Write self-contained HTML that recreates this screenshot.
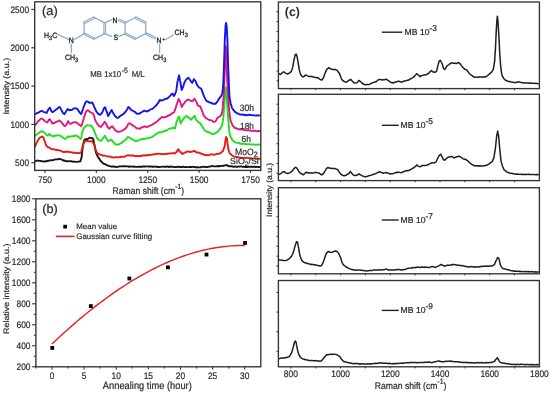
<!DOCTYPE html>
<html><head><meta charset="utf-8"><title>Figure</title>
<style>html,body{margin:0;padding:0;background:#fff;overflow:hidden;}svg{display:block;filter:blur(0.35px);}text{font-family:'Liberation Sans', Arial, Helvetica, sans-serif;text-rendering:geometricPrecision;}</style>
</head><body>
<svg width="550" height="393" viewBox="0 0 550 393">
<rect width="550" height="393" fill="#fff"/>
<clipPath id="cpa"><rect x="34.70" y="1.80" width="226.10" height="168.60"/></clipPath>
<g clip-path="url(#cpa)" fill="none" stroke-width="1.9" stroke-linejoin="round" stroke-linecap="round">
<polyline points="35.00,161.30 36.10,160.85 37.20,160.60 38.03,160.50 38.87,160.88 39.70,160.90 40.65,160.86 41.60,161.30 42.47,161.42 43.33,161.42 44.20,161.60 45.03,161.25 45.87,161.40 46.70,161.30 47.57,160.81 48.43,160.80 49.30,160.60 50.13,160.29 50.97,160.24 51.80,160.40 52.67,160.12 53.53,160.12 54.40,159.70 55.23,159.39 56.07,159.35 56.90,159.40 57.73,159.24 58.57,159.18 59.40,158.70 60.40,159.09 61.40,159.40 62.35,159.84 63.30,160.40 64.13,160.87 64.97,160.55 65.80,161.00 66.67,161.30 67.53,161.08 68.40,161.30 69.23,161.10 70.07,161.09 70.90,161.30 71.73,161.29 72.57,161.68 73.40,161.60 74.27,161.52 75.13,161.85 76.00,161.90 76.83,161.88 77.67,161.63 78.50,161.60 79.45,161.48 80.40,161.30 80.68,160.23 80.95,159.40 81.22,158.66 81.50,158.00 81.59,157.29 81.69,156.33 81.78,155.45 81.87,154.79 81.96,153.90 82.06,153.00 82.15,152.46 82.24,151.60 82.34,150.53 82.43,149.90 82.52,149.06 82.61,148.44 82.71,147.54 82.80,146.60 82.96,145.69 83.12,145.29 83.29,144.02 83.45,143.40 83.61,142.81 83.77,141.68 83.94,141.08 84.10,140.30 84.90,139.49 85.70,139.20 86.65,139.19 87.60,139.00 88.55,138.50 89.50,137.70 90.37,137.84 91.23,138.11 92.10,138.00 92.75,138.70 93.40,139.60 93.57,140.54 93.74,141.31 93.91,142.13 94.09,142.89 94.26,143.93 94.43,144.82 94.60,145.40 94.76,146.26 94.92,147.24 95.09,147.78 95.25,149.01 95.41,149.86 95.58,150.93 95.74,151.71 95.90,152.40 96.28,153.16 96.66,154.10 97.04,155.13 97.42,155.65 97.80,156.80 98.32,157.54 98.84,158.13 99.36,158.87 99.88,159.59 100.40,160.60 101.03,161.40 101.65,161.69 102.28,162.41 102.90,163.20 103.66,163.52 104.42,164.17 105.18,164.11 105.94,164.69 106.70,165.10 107.65,165.43 108.60,165.91 109.55,166.18 110.50,166.30 111.47,166.60 112.45,166.38 113.43,166.55 114.40,166.70 115.35,166.62 116.30,166.92 117.25,166.96 118.20,166.70 119.05,166.44 119.90,166.39 120.75,166.35 121.60,166.28 122.45,166.36 123.30,166.30 124.14,166.37 124.97,166.22 125.81,166.10 126.65,166.35 127.49,166.35 128.32,166.49 129.16,166.73 130.00,166.50 130.83,166.63 131.67,166.56 132.50,166.64 133.33,166.70 134.17,166.38 135.00,166.87 135.83,166.83 136.67,166.91 137.50,166.89 138.33,166.69 139.17,166.72 140.00,166.80 140.83,166.56 141.67,166.84 142.50,166.50 143.33,166.49 144.17,166.55 145.00,166.51 145.83,166.59 146.67,166.42 147.50,166.37 148.33,166.44 149.17,166.39 150.00,166.60 150.83,166.55 151.67,166.38 152.50,166.88 153.33,166.76 154.17,166.53 155.00,166.61 155.83,166.69 156.67,166.72 157.50,166.61 158.33,167.05 159.17,167.15 160.00,166.90 160.83,166.86 161.67,166.86 162.50,166.62 163.33,166.61 164.17,166.73 165.00,166.67 165.83,166.97 166.67,166.58 167.50,166.48 168.33,166.99 169.17,166.73 170.00,166.70 170.83,166.54 171.67,166.79 172.50,166.54 173.33,166.85 174.17,167.13 175.00,166.90 175.82,167.10 176.65,167.01 177.47,166.77 178.29,166.83 179.12,166.71 179.94,167.05 180.76,166.92 181.58,167.06 182.41,166.80 183.23,166.74 184.05,167.07 184.88,167.17 185.70,166.90 186.52,167.12 187.35,167.12 188.17,167.15 188.99,167.13 189.82,166.86 190.64,167.05 191.46,166.98 192.28,166.82 193.11,166.84 193.93,167.01 194.75,167.02 195.58,167.28 196.40,167.20 197.22,167.43 198.03,167.12 198.85,167.38 199.66,167.38 200.48,167.34 201.29,166.99 202.11,166.88 202.92,166.86 203.74,166.82 204.55,166.80 205.37,167.02 206.18,167.15 207.00,166.90 207.90,166.96 208.80,166.62 209.70,166.59 210.60,166.53 211.50,166.00 212.40,166.10 213.28,166.22 214.17,166.40 215.05,166.36 215.93,166.37 216.82,166.25 217.70,166.30 218.67,166.02 219.65,166.26 220.62,165.91 221.60,165.90 222.50,165.94 223.40,165.91 224.30,165.47 225.20,165.40 226.10,165.19 227.00,165.10 227.80,165.75 228.60,166.03 229.40,166.30 230.28,166.17 231.17,166.19 232.05,166.25 232.93,166.73 233.82,166.72 234.70,166.60 235.50,166.40 236.30,166.78 237.10,166.87 237.90,166.69 238.70,166.52 239.50,166.63 240.30,166.39 241.10,166.33 241.90,166.60 242.70,166.90 243.50,166.75 244.30,166.71 245.10,166.98 245.90,166.73 246.70,167.01 247.50,167.02 248.30,166.70 249.10,166.90 249.94,166.76 250.78,166.78 251.62,166.75 252.45,166.95 253.29,166.77 254.13,166.85 254.97,166.69 255.81,167.13 256.65,166.82 257.48,166.88 258.32,166.95 259.16,167.13 260.00,166.90" stroke="#151515"/>
<polyline points="35.00,146.60 35.30,145.80 35.60,145.31 35.90,144.32 36.20,143.58 36.50,142.80 37.00,142.01 37.50,140.93 38.00,140.37 38.50,139.60 39.13,138.59 39.77,137.66 40.40,137.10 41.35,136.97 42.30,136.50 42.90,136.92 43.50,137.70 43.76,138.45 44.02,139.35 44.28,140.01 44.54,140.64 44.80,141.50 45.06,142.29 45.32,143.09 45.58,144.00 45.84,144.40 46.10,145.40 46.73,146.07 47.37,146.53 48.00,147.30 48.95,147.48 49.90,147.90 50.85,148.70 51.80,149.20 52.75,149.20 53.70,149.20 54.65,149.53 55.60,149.80 56.55,149.95 57.50,149.80 58.45,150.33 59.40,150.40 60.40,150.72 61.40,151.10 62.35,151.61 63.30,152.00 64.25,152.00 65.20,152.00 66.15,151.76 67.10,151.50 67.93,151.77 68.77,151.81 69.60,152.00 70.47,152.15 71.33,152.25 72.20,152.40 73.03,152.75 73.87,152.71 74.70,152.70 75.57,153.01 76.43,153.15 77.30,153.00 78.13,152.93 78.97,153.17 79.80,153.20 81.00,152.40 81.22,151.85 81.45,150.99 81.68,149.80 81.90,149.20 82.12,148.14 82.33,147.47 82.55,146.41 82.77,145.65 82.98,144.71 83.20,144.10 83.63,143.26 84.07,142.39 84.50,141.30 85.45,141.32 86.40,140.90 87.23,140.84 88.07,141.29 88.90,141.30 89.97,141.39 91.03,141.10 92.10,141.30 92.57,142.21 93.05,142.96 93.53,143.24 94.00,144.10 94.22,145.20 94.43,145.74 94.65,146.64 94.87,147.77 95.08,148.54 95.30,149.20 95.68,149.81 96.06,150.76 96.44,151.61 96.82,152.31 97.20,153.20 98.03,153.46 98.87,153.97 99.70,154.50 100.50,154.87 101.30,154.73 102.10,155.28 102.90,155.50 103.85,155.64 104.80,155.58 105.75,155.93 106.70,156.20 107.65,156.42 108.60,156.51 109.55,156.41 110.50,156.80 111.47,157.22 112.45,157.26 113.43,157.51 114.40,157.40 115.35,157.18 116.30,157.27 117.25,157.14 118.20,157.40 119.15,157.41 120.10,156.97 121.05,156.74 122.00,156.80 122.95,156.61 123.90,156.73 124.85,156.53 125.80,156.20 126.53,155.73 127.27,155.34 128.00,155.20 128.95,155.51 129.90,155.39 130.85,155.54 131.80,155.50 132.75,155.42 133.70,155.55 134.65,156.06 135.60,156.10 136.57,156.06 137.55,155.86 138.53,156.35 139.50,156.10 140.45,156.03 141.40,155.97 142.35,155.42 143.30,155.50 144.25,155.62 145.20,155.11 146.15,155.48 147.10,155.20 148.05,155.07 149.00,154.91 149.95,154.93 150.90,154.80 151.85,154.91 152.80,154.42 153.75,154.22 154.70,154.30 155.65,154.22 156.60,153.95 157.55,153.78 158.50,153.90 159.47,153.81 160.45,153.85 161.43,154.03 162.40,154.30 163.35,154.09 164.30,153.99 165.25,154.15 166.20,153.90 167.15,153.68 168.10,153.70 169.05,153.42 170.00,153.50 170.95,153.36 171.90,153.13 172.85,153.21 173.80,153.30 175.00,153.50 175.80,152.43 176.60,151.90 177.13,151.13 177.67,150.13 178.20,149.20 178.73,149.76 179.27,150.65 179.80,151.40 180.48,152.29 181.15,152.48 181.82,153.53 182.50,154.00 183.37,153.43 184.23,152.93 185.10,152.40 186.00,152.25 186.90,151.67 187.80,151.40 188.60,151.53 189.40,151.76 190.20,152.05 191.00,151.90 191.80,151.54 192.60,151.54 193.40,151.19 194.20,150.80 194.93,151.41 195.67,151.81 196.40,152.40 197.20,152.46 198.00,152.45 198.80,152.64 199.60,153.00 200.40,153.11 201.20,153.83 202.00,153.91 202.80,154.40 203.85,154.56 204.90,155.10 205.97,154.87 207.03,155.29 208.10,155.10 208.90,155.13 209.70,154.85 210.50,154.45 211.30,154.40 212.10,154.36 212.90,154.48 213.70,154.68 214.50,154.80 215.30,154.33 216.10,154.22 216.90,153.84 217.70,153.70 218.60,153.76 219.50,153.56 220.40,153.10 221.20,152.53 222.00,151.76 222.80,151.30 223.10,150.76 223.40,149.59 223.70,148.82 224.00,147.82 224.30,147.23 224.60,146.50 224.71,145.64 224.83,144.82 224.94,143.80 225.06,143.13 225.17,142.01 225.29,141.31 225.40,140.60 225.57,139.47 225.75,138.74 225.93,137.64 226.10,137.00 227.00,138.20 227.09,138.78 227.17,139.78 227.26,140.58 227.34,141.62 227.43,142.43 227.51,143.40 227.60,144.10 227.73,145.05 227.86,145.94 227.99,146.88 228.11,147.47 228.24,148.29 228.37,149.51 228.50,150.10 228.88,150.80 229.25,152.03 229.62,152.88 230.00,153.70 230.72,153.96 231.44,154.93 232.16,155.48 232.88,155.85 233.60,156.30 234.38,156.60 235.17,156.81 235.95,156.60 236.73,156.98 237.52,157.14 238.30,157.30 239.16,157.57 240.01,157.64 240.87,157.74 241.73,157.69 242.59,157.95 243.44,157.92 244.30,157.90 245.10,158.06 245.90,157.86 246.70,157.80 247.50,157.92 248.30,158.10 249.10,158.01 249.90,158.48 250.70,158.38 251.50,158.40 252.35,158.51 253.20,158.55 254.05,158.62 254.90,158.55 255.75,158.32 256.60,158.81 257.45,158.82 258.30,158.72 259.15,158.78 260.00,158.80" stroke="#e51c1c"/>
<polyline points="35.30,135.70 36.13,135.16 36.97,134.19 37.80,133.80 38.45,133.46 39.10,132.71 39.75,132.14 40.40,131.90 41.35,131.47 42.30,131.30 43.25,132.03 44.20,132.50 44.83,132.97 45.47,133.90 46.10,134.40 47.05,135.32 48.00,135.70 48.65,134.75 49.30,133.80 49.90,134.38 50.50,135.10 51.45,135.69 52.40,136.30 53.40,136.10 54.40,135.70 55.35,135.75 56.30,135.50 57.25,135.37 58.20,135.10 59.15,135.48 60.10,135.70 61.05,136.11 62.00,137.00 62.83,137.44 63.67,138.13 64.50,138.90 65.45,138.74 66.40,138.30 66.97,137.52 67.53,137.00 68.10,136.30 68.85,136.38 69.60,137.00 70.47,136.52 71.33,136.40 72.20,136.30 73.03,136.20 73.87,136.01 74.70,135.70 75.65,135.70 76.60,135.50 77.23,135.88 77.87,136.51 78.50,137.00 79.13,137.61 79.77,138.25 80.40,138.90 81.30,138.30 81.40,137.25 81.50,136.85 81.60,135.63 81.70,135.23 81.80,134.38 81.90,133.30 82.22,132.18 82.53,131.58 82.85,130.93 83.17,130.16 83.48,129.02 83.80,128.20 84.45,127.37 85.10,126.64 85.75,126.35 86.40,125.40 87.23,125.24 88.07,125.45 88.90,125.40 89.77,125.33 90.63,125.68 91.50,125.80 91.97,126.80 92.45,127.09 92.93,128.23 93.40,128.80 93.72,129.65 94.03,130.72 94.35,131.46 94.67,132.05 94.98,133.27 95.30,133.90 95.62,134.64 95.93,135.13 96.25,135.87 96.57,136.90 96.88,137.62 97.20,138.40 97.83,138.92 98.47,139.47 99.10,140.30 100.05,140.51 101.00,140.90 101.63,139.96 102.27,139.42 102.90,138.40 103.38,137.47 103.85,137.24 104.33,136.64 104.80,135.80 105.28,136.39 105.75,137.64 106.22,138.32 106.70,139.00 107.20,139.99 107.70,140.42 108.20,141.30 109.05,140.73 109.90,140.30 110.75,139.89 111.60,139.60 112.17,140.75 112.73,141.38 113.30,142.20 113.88,142.75 114.45,143.41 115.02,143.95 115.60,144.70 116.47,144.45 117.33,144.48 118.20,144.70 119.03,144.45 119.87,143.71 120.70,143.40 121.35,143.17 122.00,142.31 122.65,141.84 123.30,141.50 124.13,140.87 124.97,140.06 125.80,139.60 126.35,138.80 126.90,138.41 127.45,137.64 128.00,136.70 128.83,137.31 129.67,137.64 130.50,138.00 131.15,138.71 131.80,139.20 132.45,139.45 133.10,139.90 133.93,140.46 134.77,140.51 135.60,141.20 136.47,141.10 137.33,140.71 138.20,140.50 139.03,140.31 139.87,139.91 140.70,139.50 141.57,139.21 142.43,138.91 143.30,139.00 144.13,139.11 144.97,138.52 145.80,138.60 146.67,138.38 147.53,138.11 148.40,138.00 149.23,137.69 150.07,137.73 150.90,137.40 151.73,137.23 152.57,136.40 153.40,136.10 154.05,135.71 154.70,135.04 155.35,134.71 156.00,134.20 156.83,133.61 157.67,132.95 158.50,132.60 159.37,132.31 160.23,132.24 161.10,132.30 161.93,132.23 162.77,131.70 163.60,131.40 164.47,130.91 165.33,130.96 166.20,130.40 167.03,130.24 167.87,129.51 168.70,129.10 169.57,128.66 170.43,128.46 171.30,128.40 172.13,127.97 172.97,127.91 173.80,127.80 175.00,128.60 175.19,127.56 175.37,126.83 175.56,126.02 175.74,125.38 175.93,124.75 176.11,123.85 176.30,122.90 176.60,121.90 176.90,120.95 177.20,120.06 177.50,119.10 178.03,118.16 178.57,117.28 179.10,116.50 179.30,117.13 179.50,118.13 179.70,119.39 179.90,119.79 180.10,120.88 180.30,121.82 180.50,122.83 180.70,123.50 181.17,122.57 181.65,121.82 182.12,121.03 182.60,120.40 183.07,119.54 183.55,118.77 184.03,118.25 184.50,117.20 185.50,116.75 186.50,115.90 187.33,116.74 188.17,116.90 189.00,117.80 189.63,118.17 190.27,119.18 190.90,119.70 191.53,119.29 192.17,118.42 192.80,117.80 193.43,117.22 194.07,116.25 194.70,115.90 195.02,116.59 195.33,117.64 195.65,118.33 195.97,119.10 196.28,119.91 196.60,120.40 197.23,120.89 197.87,121.45 198.50,122.30 199.45,122.71 200.40,123.50 200.90,124.31 201.40,125.20 201.90,126.15 202.40,126.70 202.88,127.62 203.35,128.38 203.83,129.25 204.30,129.90 205.13,130.51 205.97,131.20 206.80,131.80 207.67,131.74 208.53,132.36 209.40,132.40 210.23,132.68 211.07,133.50 211.90,133.70 212.85,133.98 213.80,134.10 214.75,133.49 215.70,133.10 216.35,132.42 217.00,132.01 217.65,131.75 218.30,131.20 218.83,130.64 219.35,129.63 219.88,128.93 220.40,128.50 220.85,127.64 221.30,126.80 221.75,125.81 222.20,125.00 222.32,124.05 222.44,123.46 222.57,122.33 222.69,121.69 222.81,120.98 222.93,120.46 223.06,119.48 223.18,118.81 223.30,117.80 223.36,116.99 223.43,116.05 223.49,115.26 223.55,114.86 223.61,113.91 223.68,112.89 223.74,111.93 223.80,111.40 223.86,110.70 223.93,109.76 223.99,108.86 224.05,108.29 224.11,107.64 224.18,106.45 224.24,105.54 224.30,105.00 224.35,104.09 224.41,103.32 224.46,102.65 224.52,101.56 224.57,101.08 224.63,100.22 224.68,99.28 224.74,98.29 224.79,97.90 224.85,96.71 224.90,96.00 224.99,95.31 225.08,94.11 225.17,93.23 225.26,92.67 225.35,91.54 225.44,91.03 225.53,89.91 225.62,88.86 225.71,88.02 225.80,87.30 225.88,88.12 225.96,89.13 226.04,90.16 226.12,90.58 226.20,91.59 226.28,92.36 226.36,93.66 226.44,94.06 226.52,94.88 226.60,96.00 226.65,96.57 226.71,97.58 226.76,98.68 226.82,99.49 226.87,100.22 226.93,101.19 226.98,101.97 227.04,102.45 227.09,103.19 227.15,104.43 227.20,105.00 227.26,105.97 227.32,106.40 227.38,107.59 227.44,108.27 227.51,109.10 227.57,109.91 227.63,110.65 227.69,111.39 227.75,112.38 227.81,113.25 227.87,114.42 227.93,114.79 227.99,116.09 228.06,116.50 228.12,117.42 228.18,118.51 228.24,119.35 228.30,120.00 228.37,120.78 228.45,121.37 228.52,122.43 228.59,123.18 228.67,124.30 228.74,124.71 228.81,125.62 228.89,126.73 228.96,127.06 229.03,128.08 229.11,129.12 229.18,129.91 229.25,130.32 229.33,131.13 229.40,132.20 229.60,132.76 229.80,134.04 230.00,134.46 230.20,135.54 230.40,136.42 230.60,137.00 231.05,137.66 231.50,138.37 231.95,139.51 232.40,140.00 233.17,140.80 233.93,141.33 234.70,142.20 235.60,142.57 236.50,142.60 237.40,142.82 238.30,143.20 239.16,143.02 240.01,143.54 240.87,143.73 241.73,143.68 242.59,143.95 243.44,143.53 244.30,143.90 245.10,143.81 245.90,144.00 246.70,144.32 247.50,144.38 248.30,144.11 249.10,144.09 249.90,144.25 250.70,144.34 251.50,144.40 252.35,144.67 253.20,144.28 254.05,144.66 254.90,144.65 255.75,144.73 256.60,144.73 257.45,144.67 258.30,144.54 259.15,144.57 260.00,144.70" stroke="#1ee01e"/>
<polyline points="35.30,124.90 35.93,123.99 36.57,123.39 37.20,122.40 37.83,121.51 38.45,120.93 39.08,120.59 39.70,119.80 40.65,119.01 41.60,118.50 42.55,118.91 43.50,119.80 44.17,120.17 44.83,121.10 45.50,121.70 46.45,121.95 47.40,122.40 47.80,121.80 48.20,120.88 48.60,119.80 49.90,119.20 50.33,120.31 50.77,120.74 51.20,121.70 51.80,122.42 52.40,123.60 53.40,123.07 54.40,123.00 55.35,122.35 56.30,121.70 57.25,121.52 58.20,121.10 59.40,120.40 60.05,121.02 60.70,121.70 61.33,122.18 61.97,122.92 62.60,123.60 63.08,124.32 63.55,125.00 64.03,125.69 64.50,126.20 65.45,125.74 66.40,124.90 66.74,124.23 67.08,123.17 67.42,122.81 67.76,121.74 68.10,121.10 68.60,121.97 69.10,122.70 69.60,123.60 70.55,123.73 71.50,123.60 72.45,122.83 73.40,122.40 74.27,122.26 75.13,122.26 76.00,122.40 76.95,122.81 77.90,123.60 78.85,124.47 79.80,124.90 80.45,125.59 81.10,126.20 81.90,125.00 82.11,124.12 82.32,123.39 82.53,122.94 82.74,121.89 82.96,120.96 83.17,120.51 83.38,119.64 83.59,119.05 83.80,118.00 84.07,116.96 84.34,116.36 84.61,115.74 84.89,114.93 85.16,114.16 85.43,112.86 85.70,112.30 86.27,111.45 86.83,110.62 87.40,110.10 88.15,110.38 88.90,111.00 89.85,111.91 90.80,112.30 91.75,112.80 92.70,113.20 93.13,114.17 93.57,114.60 94.00,115.40 94.22,116.46 94.43,117.07 94.65,117.82 94.87,118.96 95.08,119.90 95.30,120.50 95.78,121.08 96.25,122.15 96.72,122.97 97.20,123.70 97.67,124.19 98.15,124.93 98.62,125.45 99.10,126.30 100.05,126.43 101.00,126.90 101.63,125.93 102.27,125.29 102.90,124.40 103.38,123.83 103.85,122.93 104.33,122.18 104.80,121.80 105.45,122.65 106.10,123.70 106.42,124.60 106.75,125.12 107.08,125.99 107.40,126.90 108.03,127.37 108.67,128.33 109.30,128.80 109.93,128.19 110.57,127.29 111.20,126.90 112.40,126.30 113.05,127.03 113.70,128.20 114.33,128.97 114.97,129.89 115.60,130.70 116.47,131.21 117.33,131.34 118.20,132.00 119.03,131.58 119.87,131.64 120.70,131.30 121.57,130.85 122.43,130.38 123.30,130.10 124.25,129.34 125.20,128.80 125.83,128.22 126.47,127.03 127.10,126.30 127.57,125.40 128.03,124.35 128.50,123.50 129.90,123.40 130.85,123.95 131.80,124.60 132.45,125.28 133.10,125.83 133.75,125.95 134.40,126.50 135.23,126.96 136.07,127.89 136.90,128.40 137.77,128.37 138.63,128.39 139.50,128.80 140.33,128.49 141.17,127.69 142.00,127.20 142.83,127.08 143.67,126.55 144.50,126.30 145.37,126.81 146.23,126.88 147.10,127.20 147.93,126.58 148.77,126.06 149.60,125.90 150.47,125.50 151.33,125.11 152.20,124.60 153.00,124.35 153.80,123.42 154.60,123.24 155.40,122.70 156.23,121.99 157.07,121.44 157.90,120.80 158.53,119.97 159.17,119.41 159.80,118.90 160.43,118.28 161.07,117.87 161.70,117.00 162.65,117.08 163.60,117.60 164.47,117.19 165.33,116.97 166.20,116.40 167.03,116.43 167.87,115.76 168.70,115.70 169.35,115.02 170.00,115.00 170.65,114.54 171.30,113.80 172.13,113.36 172.97,112.68 173.80,112.50 174.20,111.91 174.60,110.77 175.00,110.00 175.27,109.37 175.54,108.35 175.81,107.61 176.09,106.38 176.36,105.87 176.63,104.70 176.90,104.00 177.18,103.11 177.47,102.53 177.75,101.68 178.03,100.49 178.32,99.68 178.60,99.00 179.10,99.78 179.60,100.68 180.10,101.50 180.33,102.22 180.56,102.86 180.79,103.72 181.01,104.77 181.24,105.65 181.47,105.96 181.70,107.00 182.17,106.28 182.65,105.64 183.12,104.49 183.60,104.00 184.23,103.36 184.87,102.12 185.50,101.50 186.23,100.89 186.97,100.19 187.70,99.50 188.47,99.84 189.23,99.92 190.00,100.30 190.73,100.59 191.47,101.01 192.20,101.30 192.75,100.63 193.30,100.14 193.85,99.40 194.40,98.80 194.84,99.47 195.28,99.93 195.72,100.97 196.16,101.59 196.60,102.30 196.93,103.00 197.25,104.15 197.57,105.01 197.90,105.70 198.85,105.83 199.80,106.00 200.18,106.62 200.56,107.59 200.94,108.18 201.32,108.99 201.70,110.00 201.97,110.72 202.24,111.29 202.51,112.24 202.79,113.03 203.06,113.53 203.33,114.62 203.60,115.30 204.12,115.69 204.64,116.67 205.16,117.32 205.68,117.79 206.20,118.40 207.03,118.58 207.87,119.27 208.70,119.70 209.57,119.86 210.43,120.42 211.30,120.40 212.13,120.70 212.97,121.60 213.80,121.90 214.75,121.73 215.70,121.00 216.17,120.33 216.65,119.58 217.12,118.43 217.60,117.80 218.55,117.42 219.50,116.50 220.30,115.90 221.10,115.30 221.40,114.61 221.70,113.63 222.00,112.26 222.30,111.50 222.38,110.82 222.46,110.05 222.55,108.72 222.63,108.03 222.71,107.42 222.79,106.24 222.87,105.80 222.95,104.61 223.04,104.07 223.12,102.85 223.20,102.20 223.26,101.38 223.31,100.79 223.37,99.57 223.43,98.78 223.49,98.10 223.54,97.17 223.60,96.19 223.66,95.45 223.71,94.62 223.77,94.23 223.83,93.26 223.89,92.56 223.94,91.34 224.00,90.70 224.03,90.03 224.06,88.83 224.09,88.24 224.13,87.47 224.16,86.49 224.19,85.95 224.22,84.95 224.25,84.13 224.28,83.48 224.32,82.22 224.35,81.89 224.38,80.86 224.41,79.90 224.44,79.30 224.47,78.17 224.51,77.75 224.54,76.70 224.57,75.75 224.60,75.00 224.62,74.35 224.65,73.37 224.67,72.42 224.70,71.94 224.72,70.75 224.74,70.38 224.77,69.26 224.79,68.68 224.82,68.07 224.84,67.05 224.86,66.29 224.89,65.30 224.91,64.32 224.94,63.54 224.96,62.80 224.98,62.26 225.01,61.36 225.03,60.61 225.06,60.02 225.08,58.79 225.10,58.05 225.13,57.49 225.15,56.33 225.18,55.52 225.20,55.00 225.25,54.12 225.29,53.18 225.34,52.52 225.38,51.65 225.43,51.05 225.47,50.25 225.52,49.23 225.56,48.67 225.61,47.79 225.65,46.80 225.70,46.20 225.75,47.24 225.81,47.66 225.86,48.40 225.92,49.17 225.97,50.28 226.03,51.21 226.08,51.96 226.14,52.55 226.19,53.27 226.25,53.93 226.30,55.00 226.33,55.88 226.36,56.63 226.38,57.32 226.41,58.28 226.44,58.97 226.47,60.04 226.50,60.73 226.52,61.26 226.55,62.43 226.58,62.74 226.61,63.82 226.64,64.55 226.66,65.25 226.69,65.95 226.72,67.16 226.75,67.53 226.78,68.63 226.80,69.65 226.83,70.00 226.86,70.83 226.89,71.86 226.92,72.60 226.94,73.48 226.97,74.38 227.00,75.00 227.04,75.65 227.08,76.56 227.12,77.39 227.16,78.08 227.19,79.38 227.23,80.16 227.27,80.95 227.31,81.39 227.35,82.69 227.39,83.47 227.43,84.15 227.47,85.14 227.51,85.81 227.54,86.51 227.58,87.28 227.62,88.18 227.66,88.91 227.70,90.00 227.75,90.72 227.81,91.77 227.86,92.55 227.91,93.45 227.97,94.19 228.02,94.75 228.07,95.72 228.13,96.47 228.18,97.48 228.23,98.15 228.29,98.82 228.34,99.84 228.39,100.83 228.45,101.23 228.50,102.20 228.57,103.23 228.64,103.56 228.71,104.51 228.79,105.31 228.86,106.41 228.93,107.33 229.00,108.04 229.07,108.62 229.14,109.74 229.21,110.25 229.29,111.01 229.36,112.20 229.43,112.86 229.50,113.60 229.64,114.57 229.78,115.42 229.91,116.46 230.05,117.03 230.19,118.10 230.32,118.89 230.46,119.84 230.60,120.50 230.88,121.23 231.17,122.16 231.45,122.84 231.73,123.46 232.02,124.17 232.30,125.10 232.88,125.87 233.45,126.26 234.03,127.43 234.60,127.90 235.50,128.03 236.40,128.30 237.30,128.90 238.22,128.84 239.14,129.46 240.06,129.29 240.98,129.34 241.90,129.70 242.76,129.52 243.61,129.61 244.47,130.07 245.33,130.12 246.19,130.24 247.04,130.35 247.90,130.30 248.76,130.13 249.61,130.49 250.47,130.44 251.33,130.76 252.19,130.84 253.04,130.95 253.90,130.80 254.77,130.61 255.64,131.12 256.51,131.20 257.39,131.28 258.26,130.87 259.13,130.98 260.00,131.20" stroke="#e3187c"/>
<polyline points="35.50,114.10 36.27,113.45 37.03,112.97 37.80,112.80 38.67,112.49 39.53,111.97 40.40,111.30 41.35,111.18 42.30,110.90 43.25,111.73 44.20,112.20 45.03,112.47 45.87,112.48 46.70,112.80 47.08,111.82 47.46,111.05 47.84,110.66 48.22,109.59 48.60,109.00 49.25,108.25 49.90,107.70 50.23,108.46 50.55,109.03 50.88,109.96 51.20,110.90 51.80,111.43 52.40,112.20 53.40,111.67 54.40,110.90 55.23,110.19 56.07,109.53 56.90,109.00 57.53,108.63 58.17,107.74 58.80,107.10 60.10,107.10 60.42,108.10 60.75,108.77 61.08,109.24 61.40,110.30 61.88,111.03 62.35,111.81 62.82,112.78 63.30,113.40 64.50,114.10 64.97,113.21 65.45,112.61 65.93,111.72 66.40,110.90 67.05,109.79 67.70,109.00 68.65,109.85 69.60,110.30 70.55,109.92 71.50,110.00 72.45,109.53 73.40,108.70 74.27,108.42 75.13,108.22 76.00,108.40 76.95,108.83 77.90,109.60 78.38,110.55 78.85,111.47 79.33,111.72 79.80,112.80 80.45,113.44 81.10,114.10 81.50,113.20 81.90,112.30 82.17,111.64 82.44,110.47 82.71,109.81 82.99,108.90 83.26,108.34 83.53,107.19 83.80,106.50 84.18,105.87 84.56,104.62 84.94,103.70 85.32,103.09 85.70,102.10 87.00,101.20 87.63,101.70 88.27,101.98 88.90,102.70 89.85,102.78 90.80,102.70 92.10,102.50 92.53,102.97 92.97,104.06 93.40,104.60 93.70,105.51 94.00,106.36 94.30,107.07 94.60,107.80 94.98,108.48 95.36,109.26 95.74,110.02 96.12,111.06 96.50,111.60 96.97,112.02 97.45,113.12 97.93,113.28 98.40,114.20 99.40,114.34 100.40,114.80 101.03,113.83 101.67,113.36 102.30,112.30 102.62,111.55 102.93,110.73 103.25,110.27 103.57,109.15 103.88,108.53 104.20,107.80 105.20,107.20 105.50,108.10 105.80,109.10 106.10,109.98 106.40,110.80 106.70,111.60 107.00,112.42 107.30,113.30 107.60,114.11 107.90,115.39 108.20,116.10 108.62,115.39 109.05,114.64 109.48,113.51 109.90,112.90 110.33,112.17 110.75,111.65 111.17,110.84 111.60,110.10 112.10,110.82 112.60,111.95 113.10,112.90 113.57,113.92 114.05,114.35 114.53,115.13 115.00,116.10 115.83,116.62 116.67,117.48 117.50,118.00 118.45,117.54 119.40,116.70 120.35,115.86 121.30,115.40 122.30,114.61 123.30,114.20 123.93,113.43 124.57,112.84 125.20,112.30 125.67,111.66 126.15,110.81 126.62,110.25 127.10,109.70 127.50,108.63 127.90,108.17 128.30,107.00 129.30,107.50 129.78,108.28 130.25,108.58 130.72,109.71 131.20,110.10 132.15,110.33 133.10,111.00 134.05,111.44 135.00,112.00 135.83,112.90 136.67,113.43 137.50,113.90 138.37,113.83 139.23,113.46 140.10,113.30 141.05,112.48 142.00,112.00 142.95,111.43 143.90,110.70 144.85,110.78 145.80,111.30 146.75,111.14 147.70,111.30 148.65,110.64 149.60,110.10 150.47,109.41 151.33,109.18 152.20,108.80 153.03,108.33 153.87,107.64 154.70,106.90 155.33,106.27 155.97,105.71 156.60,105.00 157.07,104.33 157.55,103.50 158.03,103.11 158.50,102.40 158.93,101.51 159.37,100.87 159.80,99.90 160.75,100.43 161.70,100.50 162.65,100.16 163.60,99.90 164.55,99.29 165.50,98.60 166.45,98.74 167.40,98.60 168.03,97.92 168.67,97.18 169.30,96.70 169.80,96.20 170.30,95.66 170.80,94.98 171.30,94.20 172.50,93.50 172.93,94.48 173.37,95.43 173.80,96.10 174.40,95.35 175.00,94.40 175.26,93.70 175.52,92.81 175.78,91.96 176.04,91.35 176.30,90.50 176.41,89.47 176.52,88.84 176.63,88.23 176.74,87.38 176.85,86.53 176.95,85.51 177.06,84.79 177.17,84.00 177.28,83.29 177.39,82.36 177.50,81.60 177.70,80.91 177.90,80.27 178.10,79.06 178.30,78.54 178.50,77.82 178.70,76.81 178.90,76.08 179.10,75.30 179.25,76.35 179.40,76.62 179.55,77.69 179.70,78.26 179.85,79.40 180.00,80.27 180.15,80.82 180.30,81.60 180.43,82.21 180.56,83.30 180.69,84.11 180.82,85.04 180.95,85.76 181.08,86.66 181.21,87.59 181.34,88.25 181.47,89.02 181.60,89.90 182.03,89.32 182.47,88.07 182.90,87.40 183.17,86.65 183.43,85.64 183.70,85.00 183.97,83.79 184.23,83.42 184.50,82.30 185.00,81.42 185.50,80.45 186.00,79.77 186.50,79.10 187.45,78.39 188.40,77.80 188.88,78.18 189.35,79.05 189.83,79.71 190.30,80.40 190.93,81.34 191.57,81.98 192.20,82.90 192.52,82.01 192.84,81.23 193.16,80.76 193.48,80.11 193.80,79.10 194.33,79.75 194.87,80.21 195.40,81.00 195.78,82.05 196.16,82.70 196.54,83.48 196.92,84.31 197.30,85.40 197.93,86.22 198.57,86.91 199.20,87.40 200.15,88.08 201.10,88.60 201.43,89.38 201.75,90.23 202.07,90.85 202.40,91.80 202.72,92.91 203.03,93.42 203.35,94.43 203.67,95.38 203.98,96.23 204.30,96.90 204.68,97.64 205.06,98.30 205.44,99.21 205.82,99.73 206.20,100.70 207.03,101.32 207.87,101.49 208.70,102.00 209.57,102.53 210.43,102.54 211.30,103.00 212.25,103.38 213.20,103.90 214.03,103.76 214.87,103.86 215.70,103.90 216.17,103.07 216.65,102.32 217.12,102.07 217.60,101.30 218.07,100.40 218.55,99.61 219.03,98.86 219.50,98.20 219.97,97.54 220.45,96.86 220.93,96.33 221.40,95.60 221.70,94.82 222.00,93.79 222.30,93.00 222.39,92.44 222.48,91.60 222.57,90.35 222.66,89.98 222.75,89.23 222.84,88.36 222.93,87.20 223.02,86.79 223.11,85.87 223.20,85.00 223.23,83.93 223.26,83.13 223.30,82.85 223.33,81.89 223.36,80.86 223.39,79.98 223.42,79.20 223.46,78.45 223.49,77.95 223.52,76.91 223.55,76.01 223.58,75.63 223.62,74.76 223.65,73.61 223.68,73.22 223.71,72.26 223.74,71.56 223.78,70.69 223.81,70.02 223.84,69.16 223.87,68.39 223.90,67.23 223.94,66.71 223.97,65.82 224.00,65.00 224.03,64.33 224.05,63.35 224.08,62.79 224.10,61.81 224.13,60.84 224.15,60.01 224.18,59.15 224.21,58.54 224.23,57.49 224.26,56.92 224.28,55.93 224.31,55.32 224.34,54.52 224.36,53.73 224.39,53.11 224.41,51.82 224.44,51.48 224.46,50.47 224.49,49.71 224.52,48.96 224.54,48.26 224.57,47.19 224.59,46.41 224.62,45.90 224.65,44.60 224.67,44.11 224.70,43.30 224.72,42.16 224.75,41.67 224.77,40.91 224.80,40.00 224.84,39.42 224.88,38.26 224.92,37.80 224.96,36.71 225.01,35.87 225.05,35.28 225.09,33.97 225.13,33.53 225.17,32.66 225.21,31.67 225.25,31.14 225.29,30.04 225.34,29.28 225.38,28.48 225.42,27.80 225.46,26.66 225.50,26.00 225.70,24.96 225.90,23.96 226.10,23.00 226.30,24.03 226.50,25.18 226.70,26.00 226.74,26.71 226.78,27.83 226.82,28.42 226.86,29.30 226.91,29.99 226.95,30.94 226.99,32.03 227.03,32.67 227.07,33.58 227.11,34.14 227.15,34.96 227.19,35.77 227.24,36.75 227.28,37.60 227.32,38.51 227.36,38.92 227.40,40.00 227.42,40.93 227.45,41.83 227.47,42.44 227.49,42.97 227.51,43.92 227.54,44.56 227.56,45.47 227.58,46.69 227.60,47.32 227.63,48.15 227.65,49.03 227.67,49.91 227.69,50.55 227.72,51.36 227.74,52.17 227.76,53.01 227.78,53.76 227.81,54.62 227.83,55.16 227.85,56.22 227.87,56.91 227.90,57.89 227.92,58.33 227.94,59.18 227.96,59.90 227.99,61.12 228.01,62.01 228.03,62.67 228.05,63.31 228.08,64.37 228.10,65.00 228.13,65.96 228.16,66.63 228.20,67.26 228.23,68.09 228.26,68.96 228.29,69.70 228.32,70.56 228.36,71.48 228.39,72.44 228.42,72.75 228.45,73.84 228.48,74.34 228.52,75.19 228.55,76.37 228.58,77.04 228.61,78.03 228.64,78.57 228.68,79.13 228.71,80.14 228.74,81.05 228.77,82.05 228.80,82.87 228.84,83.39 228.87,84.15 228.90,85.00 228.94,85.60 228.99,86.72 229.03,87.30 229.07,88.09 229.11,88.84 229.16,89.65 229.20,90.85 229.24,91.36 229.29,92.65 229.33,92.98 229.37,94.24 229.41,94.65 229.46,95.41 229.50,96.50 229.64,97.47 229.78,98.06 229.91,99.18 230.05,99.72 230.19,100.50 230.32,101.75 230.46,102.57 230.60,103.30 230.88,104.37 231.17,105.16 231.45,105.67 231.73,106.84 232.02,107.75 232.30,108.50 232.88,109.18 233.45,110.14 234.03,110.46 234.60,111.30 235.32,112.14 236.05,112.57 236.78,112.75 237.50,113.60 238.35,113.58 239.20,114.18 240.05,114.53 240.90,114.60 241.82,114.44 242.74,114.65 243.66,114.97 244.58,114.73 245.50,115.00 246.42,115.20 247.34,114.99 248.26,114.75 249.18,114.93 250.10,115.00 251.02,115.12 251.94,115.13 252.86,115.34 253.78,115.12 254.70,115.40 255.58,115.57 256.47,115.32 257.35,115.48 258.23,115.47 259.12,115.35 260.00,115.40" stroke="#1414ec"/>
</g>
<rect x="34.7" y="1.8" width="226.10" height="168.60" fill="none" stroke="#333" stroke-width="1.35"/>
<line x1="31.30" y1="162.74" x2="34.7" y2="162.74" stroke="#333" stroke-width="1.2"/>
<text transform="translate(29.10,165.99) scale(1,1.12)" font-size="8.4" text-anchor="end" font-weight="normal" fill="#2a2a2a" stroke="#2a2a2a" stroke-width="0.18">500</text>
<line x1="31.30" y1="124.42" x2="34.7" y2="124.42" stroke="#333" stroke-width="1.2"/>
<text transform="translate(29.10,127.67) scale(1,1.12)" font-size="8.4" text-anchor="end" font-weight="normal" fill="#2a2a2a" stroke="#2a2a2a" stroke-width="0.18">1000</text>
<line x1="31.30" y1="86.10" x2="34.7" y2="86.10" stroke="#333" stroke-width="1.2"/>
<text transform="translate(29.10,89.35) scale(1,1.12)" font-size="8.4" text-anchor="end" font-weight="normal" fill="#2a2a2a" stroke="#2a2a2a" stroke-width="0.18">1500</text>
<line x1="31.30" y1="47.78" x2="34.7" y2="47.78" stroke="#333" stroke-width="1.2"/>
<text transform="translate(29.10,51.03) scale(1,1.12)" font-size="8.4" text-anchor="end" font-weight="normal" fill="#2a2a2a" stroke="#2a2a2a" stroke-width="0.18">2000</text>
<line x1="31.30" y1="9.46" x2="34.7" y2="9.46" stroke="#333" stroke-width="1.2"/>
<text transform="translate(29.10,12.71) scale(1,1.12)" font-size="8.4" text-anchor="end" font-weight="normal" fill="#2a2a2a" stroke="#2a2a2a" stroke-width="0.18">2500</text>
<line x1="44.98" y1="170.4" x2="44.98" y2="172.80" stroke="#333" stroke-width="1.2"/>
<text transform="translate(44.98,183.40) scale(1,1.12)" font-size="8.4" text-anchor="middle" font-weight="normal" fill="#2a2a2a" stroke="#2a2a2a" stroke-width="0.18">750</text>
<line x1="96.36" y1="170.4" x2="96.36" y2="172.80" stroke="#333" stroke-width="1.2"/>
<text transform="translate(96.36,183.40) scale(1,1.12)" font-size="8.4" text-anchor="middle" font-weight="normal" fill="#2a2a2a" stroke="#2a2a2a" stroke-width="0.18">1000</text>
<line x1="147.75" y1="170.4" x2="147.75" y2="172.80" stroke="#333" stroke-width="1.2"/>
<text transform="translate(147.75,183.40) scale(1,1.12)" font-size="8.4" text-anchor="middle" font-weight="normal" fill="#2a2a2a" stroke="#2a2a2a" stroke-width="0.18">1250</text>
<line x1="199.14" y1="170.4" x2="199.14" y2="172.80" stroke="#333" stroke-width="1.2"/>
<text transform="translate(199.14,183.40) scale(1,1.12)" font-size="8.4" text-anchor="middle" font-weight="normal" fill="#2a2a2a" stroke="#2a2a2a" stroke-width="0.18">1500</text>
<line x1="250.52" y1="170.4" x2="250.52" y2="172.80" stroke="#333" stroke-width="1.2"/>
<text transform="translate(250.52,183.40) scale(1,1.12)" font-size="8.4" text-anchor="middle" font-weight="normal" fill="#2a2a2a" stroke="#2a2a2a" stroke-width="0.18">1750</text>
<text transform="translate(112.60,193.50) scale(1,1.12)" font-size="8.6" text-anchor="start" font-weight="normal" fill="#2a2a2a" stroke="#2a2a2a" stroke-width="0.18">Raman shift (cm<tspan dy="-4.0" font-size="6.8">-1</tspan><tspan dy="4.0">)</tspan></text>
<text transform="translate(9.10,86.10) rotate(-90) scale(1.135,1)" font-size="7.9" text-anchor="middle" font-weight="normal" fill="#2a2a2a" stroke="#2a2a2a" stroke-width="0.18">Intensity (a.u.)</text>
<text transform="translate(42.00,14.70) scale(1,1.0)" font-size="12.8" text-anchor="start" font-weight="normal" fill="#2a2a2a" stroke="#2a2a2a" stroke-width="0.25">(a)</text>
<text transform="translate(239.80,110.80) scale(1,1.08)" font-size="8.6" text-anchor="start" font-weight="normal" fill="#2a2a2a" stroke="#2a2a2a" stroke-width="0.18">30h</text>
<text transform="translate(240.00,128.90) scale(1,1.05)" font-size="8.4" text-anchor="start" font-weight="normal" fill="#2a2a2a" stroke="#2a2a2a" stroke-width="0.18">18h</text>
<text transform="translate(241.50,141.60) scale(1,1.05)" font-size="8.5" text-anchor="start" font-weight="normal" fill="#2a2a2a" stroke="#2a2a2a" stroke-width="0.18">6h</text>
<text transform="translate(235.00,154.60) scale(1,1.05)" font-size="8.7" text-anchor="start" font-weight="normal" fill="#2a2a2a" stroke="#2a2a2a" stroke-width="0.18">MoO<tspan dy="2.4" font-size="7.4">2</tspan></text>
<text transform="translate(230.00,164.40) scale(1,0.98)" font-size="8.9" text-anchor="start" font-weight="normal" fill="#2a2a2a" stroke="#2a2a2a" stroke-width="0.18">SiO<tspan dy="2.0" font-size="6.6">2</tspan><tspan dy="-2.0">/Si</tspan></text>
<line x1="94.40" y1="17.50" x2="104.70" y2="22.80" stroke="#90a9c9" stroke-width="1.3" stroke-linecap="round"/>
<line x1="103.90" y1="22.80" x2="103.90" y2="33.60" stroke="#90a9c9" stroke-width="1.15" stroke-linecap="round"/>
<line x1="105.50" y1="22.80" x2="105.50" y2="33.60" stroke="#90a9c9" stroke-width="1.15" stroke-linecap="round"/>
<line x1="104.70" y1="33.60" x2="94.40" y2="38.90" stroke="#90a9c9" stroke-width="1.3" stroke-linecap="round"/>
<line x1="94.77" y1="38.19" x2="84.47" y2="32.89" stroke="#90a9c9" stroke-width="1.15" stroke-linecap="round"/>
<line x1="94.03" y1="39.61" x2="83.73" y2="34.31" stroke="#90a9c9" stroke-width="1.15" stroke-linecap="round"/>
<line x1="84.10" y1="33.60" x2="84.10" y2="22.80" stroke="#90a9c9" stroke-width="1.3" stroke-linecap="round"/>
<line x1="84.47" y1="23.51" x2="94.77" y2="18.21" stroke="#90a9c9" stroke-width="1.15" stroke-linecap="round"/>
<line x1="83.73" y1="22.09" x2="94.03" y2="16.79" stroke="#90a9c9" stroke-width="1.15" stroke-linecap="round"/>
<line x1="135.03" y1="18.21" x2="145.33" y2="23.51" stroke="#90a9c9" stroke-width="1.15" stroke-linecap="round"/>
<line x1="135.77" y1="16.79" x2="146.07" y2="22.09" stroke="#90a9c9" stroke-width="1.15" stroke-linecap="round"/>
<line x1="145.70" y1="22.80" x2="145.70" y2="33.60" stroke="#90a9c9" stroke-width="1.3" stroke-linecap="round"/>
<line x1="145.70" y1="33.60" x2="135.40" y2="38.90" stroke="#90a9c9" stroke-width="1.3" stroke-linecap="round"/>
<line x1="135.77" y1="38.19" x2="125.47" y2="32.89" stroke="#90a9c9" stroke-width="1.15" stroke-linecap="round"/>
<line x1="135.03" y1="39.61" x2="124.73" y2="34.31" stroke="#90a9c9" stroke-width="1.15" stroke-linecap="round"/>
<line x1="125.10" y1="33.60" x2="125.10" y2="22.80" stroke="#90a9c9" stroke-width="1.3" stroke-linecap="round"/>
<line x1="125.10" y1="22.80" x2="135.40" y2="17.50" stroke="#90a9c9" stroke-width="1.3" stroke-linecap="round"/>
<line x1="104.70" y1="22.80" x2="111.60" y2="19.70" stroke="#90a9c9" stroke-width="1.3" stroke-linecap="round"/>
<line x1="118.26" y1="20.42" x2="124.76" y2="23.52" stroke="#90a9c9" stroke-width="1.15" stroke-linecap="round"/>
<line x1="118.94" y1="18.98" x2="125.44" y2="22.08" stroke="#90a9c9" stroke-width="1.15" stroke-linecap="round"/>
<line x1="104.70" y1="33.60" x2="111.60" y2="36.40" stroke="#90a9c9" stroke-width="1.3" stroke-linecap="round"/>
<line x1="118.80" y1="36.40" x2="125.10" y2="33.60" stroke="#90a9c9" stroke-width="1.3" stroke-linecap="round"/>
<line x1="84.10" y1="33.60" x2="74.90" y2="39.30" stroke="#90a9c9" stroke-width="1.3" stroke-linecap="round"/>
<line x1="68.50" y1="39.30" x2="57.60" y2="34.30" stroke="#90a9c9" stroke-width="1.3" stroke-linecap="round"/>
<line x1="71.40" y1="44.20" x2="71.40" y2="52.40" stroke="#90a9c9" stroke-width="1.3" stroke-linecap="round"/>
<line x1="145.36" y1="34.32" x2="155.26" y2="39.02" stroke="#90a9c9" stroke-width="1.15" stroke-linecap="round"/>
<line x1="146.04" y1="32.88" x2="155.94" y2="37.58" stroke="#90a9c9" stroke-width="1.15" stroke-linecap="round"/>
<line x1="165.30" y1="39.70" x2="173.60" y2="34.80" stroke="#90a9c9" stroke-width="1.3" stroke-linecap="round"/>
<line x1="159.60" y1="44.20" x2="159.60" y2="52.60" stroke="#90a9c9" stroke-width="1.3" stroke-linecap="round"/>
<text transform="translate(115.00,22.50) scale(1,1.12)" font-size="6.9" text-anchor="middle" font-weight="normal" fill="#222" stroke="#222" stroke-width="0.3">N</text>
<text transform="translate(115.90,40.10) scale(1,1.12)" font-size="6.9" text-anchor="middle" font-weight="normal" fill="#222" stroke="#222" stroke-width="0.3">S</text>
<text transform="translate(71.20,43.20) scale(1,1.12)" font-size="6.9" text-anchor="middle" font-weight="normal" fill="#222" stroke="#222" stroke-width="0.3">N</text>
<text transform="translate(159.00,43.20) scale(1,1.12)" font-size="6.9" text-anchor="middle" font-weight="normal" fill="#222" stroke="#222" stroke-width="0.3">N</text>
<text transform="translate(163.60,40.60) scale(1,1.12)" font-size="4.6" text-anchor="middle" font-weight="normal" fill="#222" stroke="#222" stroke-width="0.2">+</text>
<text transform="translate(44.00,37.60) scale(1,1.12)" font-size="7.0" text-anchor="start" font-weight="normal" fill="#222" stroke="#222" stroke-width="0.25">H<tspan dy="1.7" font-size="5.6">3</tspan><tspan dy="-1.7">C</tspan></text>
<text transform="translate(64.90,60.00) scale(1,1.12)" font-size="7.0" text-anchor="start" font-weight="normal" fill="#222" stroke="#222" stroke-width="0.25">CH<tspan dy="1.7" font-size="5.6">3</tspan></text>
<text transform="translate(174.50,35.20) scale(1,1.12)" font-size="7.0" text-anchor="start" font-weight="normal" fill="#222" stroke="#222" stroke-width="0.25">CH<tspan dy="1.7" font-size="5.6">3</tspan></text>
<text transform="translate(153.00,60.00) scale(1,1.12)" font-size="7.0" text-anchor="start" font-weight="normal" fill="#222" stroke="#222" stroke-width="0.25">CH<tspan dy="1.7" font-size="5.6">3</tspan></text>
<text transform="translate(90.30,77.00) scale(1,1.08)" font-size="7.8" text-anchor="start" font-weight="normal" fill="#2a2a2a" stroke="#2a2a2a" stroke-width="0.18">MB 1x10<tspan dx="0.6" dy="-4.0" font-size="7.0">-5</tspan><tspan dx="1.6" dy="4.0"> M/L</tspan></text>
<rect x="35.9" y="198.8" width="224.90" height="168.00" fill="none" stroke="#333" stroke-width="1.35"/>
<line x1="32.10" y1="366.80" x2="35.9" y2="366.80" stroke="#333" stroke-width="1.1"/>
<text transform="translate(30.50,369.90) scale(1,1.12)" font-size="8.4" text-anchor="end" font-weight="normal" fill="#2a2a2a" stroke="#2a2a2a" stroke-width="0.18">200</text>
<line x1="33.90" y1="356.30" x2="35.9" y2="356.30" stroke="#333" stroke-width="1.1"/>
<line x1="32.10" y1="345.80" x2="35.9" y2="345.80" stroke="#333" stroke-width="1.1"/>
<text transform="translate(30.50,348.90) scale(1,1.12)" font-size="8.4" text-anchor="end" font-weight="normal" fill="#2a2a2a" stroke="#2a2a2a" stroke-width="0.18">400</text>
<line x1="33.90" y1="335.30" x2="35.9" y2="335.30" stroke="#333" stroke-width="1.1"/>
<line x1="32.10" y1="324.80" x2="35.9" y2="324.80" stroke="#333" stroke-width="1.1"/>
<text transform="translate(30.50,327.90) scale(1,1.12)" font-size="8.4" text-anchor="end" font-weight="normal" fill="#2a2a2a" stroke="#2a2a2a" stroke-width="0.18">600</text>
<line x1="33.90" y1="314.30" x2="35.9" y2="314.30" stroke="#333" stroke-width="1.1"/>
<line x1="32.10" y1="303.80" x2="35.9" y2="303.80" stroke="#333" stroke-width="1.1"/>
<text transform="translate(30.50,306.90) scale(1,1.12)" font-size="8.4" text-anchor="end" font-weight="normal" fill="#2a2a2a" stroke="#2a2a2a" stroke-width="0.18">800</text>
<line x1="33.90" y1="293.30" x2="35.9" y2="293.30" stroke="#333" stroke-width="1.1"/>
<line x1="32.10" y1="282.80" x2="35.9" y2="282.80" stroke="#333" stroke-width="1.1"/>
<text transform="translate(30.50,285.90) scale(1,1.12)" font-size="8.4" text-anchor="end" font-weight="normal" fill="#2a2a2a" stroke="#2a2a2a" stroke-width="0.18">1000</text>
<line x1="33.90" y1="272.30" x2="35.9" y2="272.30" stroke="#333" stroke-width="1.1"/>
<line x1="32.10" y1="261.80" x2="35.9" y2="261.80" stroke="#333" stroke-width="1.1"/>
<text transform="translate(30.50,264.90) scale(1,1.12)" font-size="8.4" text-anchor="end" font-weight="normal" fill="#2a2a2a" stroke="#2a2a2a" stroke-width="0.18">1200</text>
<line x1="33.90" y1="251.30" x2="35.9" y2="251.30" stroke="#333" stroke-width="1.1"/>
<line x1="32.10" y1="240.80" x2="35.9" y2="240.80" stroke="#333" stroke-width="1.1"/>
<text transform="translate(30.50,243.90) scale(1,1.12)" font-size="8.4" text-anchor="end" font-weight="normal" fill="#2a2a2a" stroke="#2a2a2a" stroke-width="0.18">1400</text>
<line x1="33.90" y1="230.30" x2="35.9" y2="230.30" stroke="#333" stroke-width="1.1"/>
<line x1="32.10" y1="219.80" x2="35.9" y2="219.80" stroke="#333" stroke-width="1.1"/>
<text transform="translate(30.50,222.90) scale(1,1.12)" font-size="8.4" text-anchor="end" font-weight="normal" fill="#2a2a2a" stroke="#2a2a2a" stroke-width="0.18">1600</text>
<line x1="33.90" y1="209.30" x2="35.9" y2="209.30" stroke="#333" stroke-width="1.1"/>
<line x1="32.10" y1="198.80" x2="35.9" y2="198.80" stroke="#333" stroke-width="1.1"/>
<text transform="translate(30.50,201.90) scale(1,1.12)" font-size="8.4" text-anchor="end" font-weight="normal" fill="#2a2a2a" stroke="#2a2a2a" stroke-width="0.18">1800</text>
<line x1="35.90" y1="366.8" x2="35.90" y2="368.50" stroke="#333" stroke-width="1.1"/>
<line x1="51.96" y1="366.8" x2="51.96" y2="369.60" stroke="#333" stroke-width="1.1"/>
<text transform="translate(51.96,379.40) scale(1,1.12)" font-size="8.4" text-anchor="middle" font-weight="normal" fill="#2a2a2a" stroke="#2a2a2a" stroke-width="0.18">0</text>
<line x1="68.03" y1="366.8" x2="68.03" y2="368.50" stroke="#333" stroke-width="1.1"/>
<line x1="84.09" y1="366.8" x2="84.09" y2="369.60" stroke="#333" stroke-width="1.1"/>
<text transform="translate(84.09,379.40) scale(1,1.12)" font-size="8.4" text-anchor="middle" font-weight="normal" fill="#2a2a2a" stroke="#2a2a2a" stroke-width="0.18">5</text>
<line x1="100.16" y1="366.8" x2="100.16" y2="368.50" stroke="#333" stroke-width="1.1"/>
<line x1="116.22" y1="366.8" x2="116.22" y2="369.60" stroke="#333" stroke-width="1.1"/>
<text transform="translate(116.22,379.40) scale(1,1.12)" font-size="8.4" text-anchor="middle" font-weight="normal" fill="#2a2a2a" stroke="#2a2a2a" stroke-width="0.18">10</text>
<line x1="132.29" y1="366.8" x2="132.29" y2="368.50" stroke="#333" stroke-width="1.1"/>
<line x1="148.35" y1="366.8" x2="148.35" y2="369.60" stroke="#333" stroke-width="1.1"/>
<text transform="translate(148.35,379.40) scale(1,1.12)" font-size="8.4" text-anchor="middle" font-weight="normal" fill="#2a2a2a" stroke="#2a2a2a" stroke-width="0.18">15</text>
<line x1="164.41" y1="366.8" x2="164.41" y2="368.50" stroke="#333" stroke-width="1.1"/>
<line x1="180.48" y1="366.8" x2="180.48" y2="369.60" stroke="#333" stroke-width="1.1"/>
<text transform="translate(180.48,379.40) scale(1,1.12)" font-size="8.4" text-anchor="middle" font-weight="normal" fill="#2a2a2a" stroke="#2a2a2a" stroke-width="0.18">20</text>
<line x1="196.54" y1="366.8" x2="196.54" y2="368.50" stroke="#333" stroke-width="1.1"/>
<line x1="212.61" y1="366.8" x2="212.61" y2="369.60" stroke="#333" stroke-width="1.1"/>
<text transform="translate(212.61,379.40) scale(1,1.12)" font-size="8.4" text-anchor="middle" font-weight="normal" fill="#2a2a2a" stroke="#2a2a2a" stroke-width="0.18">25</text>
<line x1="228.67" y1="366.8" x2="228.67" y2="368.50" stroke="#333" stroke-width="1.1"/>
<line x1="244.74" y1="366.8" x2="244.74" y2="369.60" stroke="#333" stroke-width="1.1"/>
<text transform="translate(244.74,379.40) scale(1,1.12)" font-size="8.4" text-anchor="middle" font-weight="normal" fill="#2a2a2a" stroke="#2a2a2a" stroke-width="0.18">30</text>
<text transform="translate(147.30,389.40) scale(1,1.12)" font-size="9.3" text-anchor="middle" font-weight="normal" fill="#2a2a2a" stroke="#2a2a2a" stroke-width="0.18">Annealing time (hour)</text>
<text transform="translate(8.50,288.80) rotate(-90) scale(1.125,1)" font-size="7.9" text-anchor="middle" font-weight="normal" fill="#2a2a2a" stroke="#2a2a2a" stroke-width="0.18">Relative intensity (a.u.)</text>
<text transform="translate(42.30,212.90) scale(1,0.98)" font-size="12.7" text-anchor="start" font-weight="normal" fill="#2a2a2a" stroke="#2a2a2a" stroke-width="0.25">(b)</text>
<polyline points="51.96,343.98 55.18,340.95 58.39,337.96 61.60,335.00 64.82,332.08 68.03,329.21 71.24,326.37 74.45,323.58 77.67,320.82 80.88,318.11 84.09,315.44 87.31,312.81 90.52,310.22 93.73,307.68 96.94,305.18 100.16,302.73 103.37,300.32 106.58,297.96 109.80,295.64 113.01,293.37 116.22,291.14 119.43,288.96 122.65,286.83 125.86,284.75 129.07,282.72 132.29,280.73 135.50,278.79 138.71,276.91 141.92,275.07 145.14,273.29 148.35,271.55 151.56,269.87 154.78,268.24 157.99,266.66 161.20,265.13 164.41,263.66 167.63,262.24 170.84,260.88 174.05,259.57 177.27,258.32 180.48,257.12 183.69,255.97 186.90,254.89 190.12,253.86 193.33,252.89 196.54,251.97 199.76,251.12 202.97,250.32 206.18,249.59 209.39,248.91 212.61,248.29 215.82,247.73 219.03,247.24 222.25,246.80 225.46,246.43 228.67,246.12 231.88,245.88 235.10,245.69 238.31,245.57 241.52,245.52 244.74,245.53" fill="none" stroke="#e42424" stroke-width="1.45"/>
<rect x="50.36" y="346.00" width="3.8" height="3.8" fill="#000"/>
<rect x="88.92" y="304.21" width="3.8" height="3.8" fill="#000"/>
<rect x="127.47" y="276.60" width="3.8" height="3.8" fill="#000"/>
<rect x="166.03" y="265.47" width="3.8" height="3.8" fill="#000"/>
<rect x="204.58" y="252.66" width="3.8" height="3.8" fill="#000"/>
<rect x="243.14" y="241.00" width="3.8" height="3.8" fill="#000"/>
<rect x="63.3" y="224.8" width="3.7" height="3.7" fill="#000"/>
<text transform="translate(76.30,229.20) scale(1,1.0)" font-size="7.9" text-anchor="start" font-weight="normal" fill="#2a2a2a" stroke="#2a2a2a" stroke-width="0.18">Mean value</text>
<line x1="55.8" y1="236.4" x2="74.6" y2="236.4" stroke="#e42424" stroke-width="1.6"/>
<text transform="translate(76.30,239.20) scale(1,1.02)" font-size="7.9" text-anchor="start" font-weight="normal" fill="#2a2a2a" stroke="#2a2a2a" stroke-width="0.18">Gaussian curve fitting</text>
<clipPath id="cpc0"><rect x="278.4" y="2.0" width="261.00" height="86.60"/></clipPath>
<polyline clip-path="url(#cpc0)" points="278.60,73.70 279.55,74.00 280.50,74.40 281.17,73.86 281.83,73.26 282.50,72.40 283.70,71.80 284.65,72.58 285.60,73.10 286.55,73.63 287.50,74.10 288.50,73.51 289.50,73.10 290.13,72.27 290.77,72.04 291.40,71.20 291.70,70.34 292.00,69.44 292.30,68.28 292.60,67.40 292.76,66.57 292.93,65.86 293.09,64.92 293.25,63.94 293.41,62.94 293.57,62.12 293.74,61.45 293.90,60.40 294.09,59.52 294.27,58.82 294.46,57.96 294.64,57.26 294.83,56.39 295.01,55.33 295.20,54.60 296.10,54.00 296.43,54.61 296.77,55.56 297.10,56.50 297.24,57.32 297.39,58.25 297.53,59.21 297.68,60.09 297.82,60.58 297.97,61.78 298.11,62.63 298.26,63.51 298.40,64.20 298.55,65.11 298.70,65.85 298.85,66.98 299.00,67.84 299.15,68.66 299.30,69.63 299.45,70.26 299.60,71.20 299.86,71.78 300.12,72.74 300.38,73.61 300.64,74.11 300.90,75.00 301.53,75.74 302.17,76.46 302.80,76.90 304.10,76.60 304.75,75.68 305.40,75.00 306.60,75.40 307.55,75.90 308.50,76.30 309.37,76.44 310.23,76.42 311.10,76.50 311.93,76.50 312.77,76.66 313.60,76.90 314.47,77.21 315.33,77.43 316.20,77.50 317.03,77.72 317.87,77.79 318.70,78.20 319.33,78.83 319.97,79.32 320.60,79.70 321.90,80.10 322.55,79.03 323.20,78.20 323.52,77.39 323.83,76.67 324.15,75.82 324.47,74.81 324.78,73.94 325.10,73.10 325.48,72.32 325.86,71.32 326.24,70.50 326.62,69.68 327.00,69.00 327.95,68.44 328.90,67.70 329.85,68.29 330.80,69.00 331.75,69.28 332.70,69.50 333.57,69.46 334.43,69.51 335.30,69.50 336.17,69.91 337.03,70.43 337.90,71.20 338.38,72.22 338.85,72.74 339.32,73.43 339.80,74.40 340.12,75.29 340.43,76.19 340.75,76.75 341.07,77.78 341.38,78.50 341.70,79.40 342.33,80.04 342.97,80.46 343.60,81.30 344.47,81.39 345.33,82.12 346.20,82.20 347.03,81.79 347.87,81.06 348.70,80.50 349.65,79.98 350.60,79.40 351.23,79.93 351.87,80.79 352.50,81.30 353.13,81.83 353.77,82.63 354.40,83.00 355.27,82.98 356.13,82.87 357.00,82.60 357.63,82.10 358.27,81.09 358.90,80.50 359.53,80.80 360.17,81.37 360.80,82.00 361.43,82.49 362.07,83.08 362.70,83.90 363.57,84.00 364.43,84.53 365.30,84.80 366.13,84.86 366.97,84.58 367.80,84.50 368.67,84.50 369.53,84.28 370.40,83.90 371.23,83.27 372.07,83.08 372.90,82.60 373.73,82.35 374.57,82.03 375.40,82.00 376.35,81.55 377.30,80.70 378.30,79.94 379.30,79.40 380.13,79.53 380.97,79.66 381.80,79.70 382.63,79.90 383.47,79.77 384.30,79.70 385.30,79.40 386.30,79.20 387.25,79.83 388.20,80.50 389.03,80.92 389.87,81.84 390.70,82.20 391.57,82.68 392.43,82.61 393.30,83.00 394.10,82.47 394.90,82.24 395.70,81.96 396.50,81.70 397.50,81.58 398.50,81.10 399.45,81.58 400.40,81.70 401.35,82.00 402.30,82.00 403.25,81.30 404.20,81.00 405.03,80.96 405.87,80.76 406.70,80.50 407.57,80.30 408.43,80.18 409.30,79.70 410.13,79.00 410.97,78.54 411.80,78.20 412.45,77.84 413.10,77.44 413.75,76.85 414.40,76.30 414.95,75.56 415.50,75.04 416.05,74.46 416.60,73.70 417.40,74.18 418.20,75.00 418.83,75.46 419.47,75.96 420.10,76.60 421.05,75.93 422.00,75.60 422.83,75.39 423.67,75.05 424.50,75.00 425.37,74.68 426.23,74.44 427.10,74.40 427.73,73.98 428.35,73.19 428.98,73.00 429.60,72.40 430.23,71.63 430.87,70.93 431.50,70.50 432.15,71.34 432.80,71.80 433.75,71.98 434.70,72.40 435.65,71.99 436.60,71.20 436.79,70.53 436.97,69.71 437.16,68.56 437.34,67.86 437.53,66.88 437.71,66.42 437.90,65.40 438.16,64.67 438.42,63.70 438.68,62.74 438.94,61.81 439.20,61.00 440.40,60.40 440.82,61.32 441.25,61.94 441.68,62.78 442.10,63.50 442.35,64.19 442.60,65.08 442.85,65.85 443.10,66.99 443.35,67.77 443.60,68.60 444.90,69.50 445.38,68.49 445.85,67.96 446.32,66.85 446.80,66.10 447.75,65.41 448.70,64.80 449.35,64.17 450.00,63.75 450.65,63.52 451.30,62.90 452.10,62.93 452.90,62.95 453.70,63.20 454.50,63.30 455.37,63.22 456.23,63.48 457.10,63.30 458.05,62.78 459.00,62.60 459.63,63.54 460.27,63.87 460.90,64.80 461.38,65.62 461.85,66.17 462.32,66.62 462.80,67.40 463.43,68.02 464.07,68.57 464.70,69.30 465.65,69.49 466.60,69.90 467.23,70.60 467.87,71.51 468.50,72.40 469.15,73.27 469.80,73.92 470.45,74.54 471.10,75.00 471.93,75.46 472.77,76.17 473.60,76.90 474.40,77.17 475.20,76.91 476.00,77.30 476.80,77.30 477.60,77.11 478.40,77.31 479.20,76.79 480.00,76.90 480.80,77.09 481.60,76.93 482.40,76.89 483.20,77.10 484.00,76.76 484.80,77.00 485.60,76.74 486.40,76.60 487.02,75.91 487.65,75.47 488.27,75.13 488.90,74.40 489.52,73.78 490.15,73.43 490.77,72.74 491.40,72.40 491.88,71.48 492.35,70.97 492.82,70.17 493.30,69.30 493.44,68.31 493.59,67.40 493.73,66.55 493.88,65.93 494.02,65.02 494.17,64.07 494.31,63.18 494.46,62.51 494.60,61.60 494.65,60.87 494.71,60.09 494.76,59.17 494.81,58.17 494.86,57.29 494.92,56.76 494.97,55.79 495.02,55.11 495.08,53.99 495.13,53.50 495.18,52.47 495.24,51.87 495.29,51.05 495.34,50.07 495.39,49.03 495.45,48.60 495.50,47.60 495.54,46.79 495.57,46.16 495.61,45.10 495.65,44.26 495.68,43.75 495.72,42.74 495.75,41.85 495.79,41.14 495.83,40.44 495.86,39.38 495.90,38.81 495.94,37.98 495.97,37.21 496.01,36.23 496.05,35.69 496.08,34.94 496.12,34.16 496.15,33.12 496.19,32.49 496.23,31.55 496.26,30.91 496.30,30.00 496.35,28.97 496.40,28.50 496.45,27.70 496.50,26.66 496.55,25.84 496.60,25.01 496.65,24.18 496.70,23.12 496.75,22.71 496.80,21.55 496.85,20.69 496.90,20.00 497.02,18.88 497.15,17.99 497.27,17.29 497.40,16.20 497.52,16.94 497.65,17.92 497.77,19.14 497.90,20.00 497.95,20.70 498.00,21.45 498.05,22.54 498.10,23.37 498.15,24.18 498.20,25.09 498.25,25.66 498.30,26.83 498.35,27.60 498.40,28.13 498.45,29.00 498.50,30.00 498.55,30.83 498.60,31.67 498.65,32.40 498.70,33.17 498.75,34.13 498.80,34.84 498.85,35.87 498.90,36.83 498.95,37.34 499.00,38.37 499.05,39.28 499.10,40.00 499.14,40.70 499.18,41.84 499.22,42.73 499.26,43.34 499.30,44.20 499.34,45.23 499.38,45.94 499.42,46.73 499.46,47.81 499.50,48.59 499.54,49.24 499.58,50.05 499.62,50.93 499.66,51.82 499.70,52.70 499.76,53.76 499.82,54.53 499.88,55.42 499.94,56.23 500.00,57.09 500.06,57.58 500.12,58.63 500.18,59.67 500.24,60.51 500.30,61.06 500.36,61.98 500.42,62.92 500.48,63.65 500.54,64.57 500.60,65.40 500.71,66.08 500.82,67.11 500.93,68.01 501.04,68.67 501.15,69.59 501.26,70.83 501.37,71.61 501.48,72.55 501.59,73.29 501.70,74.10 502.04,75.04 502.38,75.87 502.72,76.67 503.06,77.10 503.40,78.10 503.97,78.74 504.55,79.15 505.12,79.90 505.70,80.40 506.57,80.58 507.45,80.97 508.32,81.41 509.20,81.50 510.05,81.75 510.90,81.79 511.75,82.11 512.60,82.30 513.45,82.35 514.30,82.65 515.15,82.43 516.00,82.60 516.77,82.25 517.53,82.13 518.30,81.80 519.45,81.93 520.60,82.40 521.52,82.54 522.44,82.80 523.36,82.71 524.28,82.70 525.20,82.90 526.12,82.95 527.04,83.03 527.96,82.93 528.88,82.97 529.80,83.20 530.72,83.08 531.64,83.19 532.56,83.28 533.48,83.27 534.40,83.40 535.30,83.33 536.20,83.30 537.10,83.54 538.00,83.71 538.90,83.60" fill="none" stroke="#1e1e1e" stroke-width="1.5" stroke-linejoin="round"/>
<rect x="278.4" y="2.0" width="261.00" height="86.60" fill="none" stroke="#333" stroke-width="1.35"/>
<line x1="276.60" y1="11.70" x2="278.4" y2="11.70" stroke="#333" stroke-width="1.1"/>
<line x1="276.60" y1="21.58" x2="278.4" y2="21.58" stroke="#333" stroke-width="1.1"/>
<line x1="276.60" y1="31.46" x2="278.4" y2="31.46" stroke="#333" stroke-width="1.1"/>
<line x1="276.60" y1="41.34" x2="278.4" y2="41.34" stroke="#333" stroke-width="1.1"/>
<line x1="276.60" y1="51.22" x2="278.4" y2="51.22" stroke="#333" stroke-width="1.1"/>
<line x1="276.60" y1="61.10" x2="278.4" y2="61.10" stroke="#333" stroke-width="1.1"/>
<line x1="276.60" y1="70.98" x2="278.4" y2="70.98" stroke="#333" stroke-width="1.1"/>
<line x1="276.60" y1="80.86" x2="278.4" y2="80.86" stroke="#333" stroke-width="1.1"/>
<line x1="290.83" y1="88.6" x2="290.83" y2="90.20" stroke="#333" stroke-width="1.0"/>
<line x1="315.69" y1="88.6" x2="315.69" y2="90.20" stroke="#333" stroke-width="1.0"/>
<line x1="340.54" y1="88.6" x2="340.54" y2="90.20" stroke="#333" stroke-width="1.0"/>
<line x1="365.40" y1="88.6" x2="365.40" y2="90.20" stroke="#333" stroke-width="1.0"/>
<line x1="390.26" y1="88.6" x2="390.26" y2="90.20" stroke="#333" stroke-width="1.0"/>
<line x1="415.11" y1="88.6" x2="415.11" y2="90.20" stroke="#333" stroke-width="1.0"/>
<line x1="439.97" y1="88.6" x2="439.97" y2="90.20" stroke="#333" stroke-width="1.0"/>
<line x1="464.83" y1="88.6" x2="464.83" y2="90.20" stroke="#333" stroke-width="1.0"/>
<line x1="489.69" y1="88.6" x2="489.69" y2="90.20" stroke="#333" stroke-width="1.0"/>
<line x1="514.54" y1="88.6" x2="514.54" y2="90.20" stroke="#333" stroke-width="1.0"/>
<line x1="381.8" y1="32.2" x2="402.3" y2="32.2" stroke="#222" stroke-width="1.4"/>
<text transform="translate(404.60,34.70) scale(1,1.0)" font-size="8.6" text-anchor="start" font-weight="normal" fill="#2a2a2a" stroke="#2a2a2a" stroke-width="0.22">MB 10<tspan dy="-3.5" font-size="8.3">-3</tspan></text>
<clipPath id="cpc1"><rect x="278.4" y="94.3" width="261.00" height="86.30"/></clipPath>
<polyline clip-path="url(#cpc1)" points="278.50,174.40 279.60,174.15 280.70,173.80 281.43,173.16 282.17,172.53 282.90,171.80 284.00,171.60 284.80,172.12 285.60,172.90 286.70,173.34 287.80,173.60 288.90,173.13 290.00,172.70 290.73,172.19 291.47,171.68 292.20,171.10 292.73,170.35 293.27,169.55 293.80,168.90 294.60,167.99 295.40,167.30 296.25,167.73 297.10,168.40 297.63,169.31 298.17,170.15 298.70,171.10 299.27,171.87 299.83,172.35 300.40,173.30 301.20,173.59 302.00,174.00 302.80,174.51 303.60,174.70 304.17,173.98 304.73,173.52 305.30,172.90 306.40,172.20 307.20,172.55 308.00,172.90 308.90,172.81 309.80,173.11 310.70,172.90 311.80,172.81 312.90,172.90 314.00,172.82 315.10,172.50 316.20,172.45 317.30,172.70 318.35,172.81 319.40,173.30 320.13,174.00 320.87,174.34 321.60,174.90 322.45,174.16 323.30,173.80 323.83,172.85 324.37,171.97 324.90,171.10 325.43,170.37 325.97,169.26 326.50,168.60 327.35,167.93 328.20,167.50 329.00,168.00 329.80,168.10 330.70,168.37 331.60,168.28 332.50,168.60 333.43,168.53 334.37,168.54 335.30,168.60 336.07,168.94 336.83,169.18 337.60,169.40 338.03,170.25 338.45,170.94 338.88,171.51 339.30,172.20 339.85,172.93 340.40,173.56 340.95,174.19 341.50,174.70 342.40,175.06 343.30,175.56 344.20,175.80 345.10,175.53 346.00,175.25 346.90,174.70 347.63,174.07 348.37,173.93 349.10,173.30 349.75,172.23 350.40,171.60 351.10,172.57 351.80,173.30 352.33,173.94 352.87,174.50 353.40,175.10 354.33,175.40 355.27,175.33 356.20,175.40 357.00,175.01 357.80,174.70 359.10,173.80 360.10,174.57 361.10,175.10 361.83,175.63 362.57,175.88 363.30,176.20 364.35,176.50 365.40,176.90 366.50,176.53 367.60,176.20 368.70,175.78 369.80,175.40 370.90,175.25 372.00,174.90 372.90,174.51 373.80,174.25 374.70,174.00 375.60,173.59 376.50,173.08 377.40,172.70 378.50,172.17 379.60,171.80 380.70,172.28 381.80,172.50 382.60,173.05 383.40,173.30 384.50,172.90 385.60,172.50 386.70,172.68 387.80,172.90 388.53,173.13 389.27,173.55 390.00,174.00 391.10,173.74 392.20,173.80 393.25,173.48 394.30,173.10 395.25,172.84 396.20,172.50 397.10,172.22 398.00,172.48 398.90,172.20 400.00,172.37 401.10,172.70 402.00,172.42 402.90,171.98 403.80,171.40 404.70,171.40 405.60,170.87 406.50,170.80 407.43,170.60 408.37,170.65 409.30,170.30 410.35,169.53 411.40,169.20 412.13,168.53 412.87,168.30 413.60,167.80 414.33,167.20 415.07,166.78 415.80,166.00 416.70,164.90 417.35,165.57 418.00,166.00 419.10,166.37 420.20,166.70 421.00,166.37 421.80,165.60 422.90,165.61 424.00,165.60 425.10,165.46 426.20,165.30 427.30,164.98 428.40,164.50 429.45,163.90 430.50,163.40 431.35,162.99 432.20,162.70 433.25,162.84 434.30,162.90 435.15,162.28 436.00,161.80 436.40,161.17 436.80,160.23 437.20,159.34 437.60,158.50 438.03,157.52 438.45,156.84 438.88,156.06 439.30,155.30 440.00,154.78 440.70,154.20 441.13,154.97 441.57,155.83 442.00,156.40 442.32,157.40 442.65,157.99 442.98,158.77 443.30,159.60 444.70,160.20 445.50,159.40 446.30,158.50 447.15,158.07 448.00,157.20 448.80,156.98 449.60,156.90 450.45,156.66 451.30,156.40 452.60,157.00 453.50,157.59 454.40,157.90 455.17,157.36 455.93,157.02 456.70,156.70 457.50,156.68 458.30,156.38 459.10,156.00 459.90,156.56 460.70,157.10 461.50,157.46 462.30,158.34 463.10,158.70 463.88,158.98 464.65,159.24 465.43,159.52 466.20,159.50 466.80,160.27 467.40,160.67 468.00,161.15 468.60,161.90 469.40,162.47 470.20,163.24 471.00,163.90 471.77,164.38 472.55,164.71 473.33,165.19 474.10,165.80 474.90,165.86 475.70,165.85 476.50,165.74 477.30,166.02 478.10,165.80 479.08,165.94 480.05,165.75 481.02,165.99 482.00,166.10 482.80,166.11 483.60,165.77 484.40,165.82 485.20,165.40 486.00,165.50 486.77,165.01 487.55,164.85 488.33,164.34 489.10,163.90 489.74,163.47 490.38,162.77 491.02,162.40 491.66,161.92 492.30,161.40 492.70,160.42 493.10,159.71 493.50,158.79 493.90,157.90 494.02,157.33 494.15,156.35 494.27,155.49 494.40,154.57 494.52,153.79 494.65,153.26 494.77,152.19 494.90,151.39 495.02,150.63 495.15,149.99 495.27,149.33 495.40,148.40 495.49,147.61 495.57,146.85 495.66,145.69 495.75,144.83 495.83,144.32 495.92,143.28 496.01,142.61 496.09,141.62 496.18,140.69 496.27,139.90 496.35,138.98 496.44,138.50 496.53,137.52 496.61,136.57 496.70,135.80 496.87,134.99 497.03,134.18 497.20,133.25 497.37,132.84 497.53,131.92 497.70,131.10 497.88,132.24 498.06,132.95 498.24,133.97 498.42,134.75 498.60,135.80 498.67,136.44 498.75,137.67 498.82,138.48 498.89,139.08 498.97,140.18 499.04,140.98 499.11,141.59 499.19,142.57 499.26,143.56 499.33,144.20 499.41,145.24 499.48,145.77 499.55,146.67 499.63,147.66 499.70,148.40 499.79,149.12 499.87,150.01 499.96,151.11 500.05,151.78 500.13,152.76 500.22,153.37 500.31,154.18 500.39,155.11 500.48,155.88 500.57,157.07 500.65,157.62 500.74,158.59 500.83,159.24 500.91,160.27 501.00,161.10 501.23,161.84 501.46,162.63 501.69,163.27 501.91,164.08 502.14,165.17 502.37,165.75 502.60,166.60 502.98,167.31 503.35,168.11 503.73,168.98 504.10,169.90 504.85,170.36 505.60,170.85 506.35,171.70 507.10,172.20 507.88,172.38 508.65,172.55 509.43,173.04 510.20,173.20 511.02,173.16 511.84,173.38 512.66,173.77 513.48,173.60 514.30,173.90 515.10,173.94 515.90,174.17 516.70,174.21 517.50,173.99 518.30,174.20 519.12,174.18 519.94,174.38 520.76,174.27 521.58,174.56 522.40,174.40 523.22,174.27 524.04,174.60 524.86,174.40 525.68,174.28 526.50,174.40 527.30,174.38 528.10,174.24 528.90,174.49 529.70,174.29 530.50,174.40 531.32,174.62 532.14,174.52 532.96,174.46 533.78,174.45 534.60,174.60 535.48,174.65 536.36,174.47 537.24,174.76 538.12,174.43 539.00,174.60" fill="none" stroke="#1e1e1e" stroke-width="1.5" stroke-linejoin="round"/>
<rect x="278.4" y="94.3" width="261.00" height="86.30" fill="none" stroke="#333" stroke-width="1.35"/>
<line x1="276.60" y1="104.20" x2="278.4" y2="104.20" stroke="#333" stroke-width="1.1"/>
<line x1="276.60" y1="114.08" x2="278.4" y2="114.08" stroke="#333" stroke-width="1.1"/>
<line x1="276.60" y1="123.96" x2="278.4" y2="123.96" stroke="#333" stroke-width="1.1"/>
<line x1="276.60" y1="133.84" x2="278.4" y2="133.84" stroke="#333" stroke-width="1.1"/>
<line x1="276.60" y1="143.72" x2="278.4" y2="143.72" stroke="#333" stroke-width="1.1"/>
<line x1="276.60" y1="153.60" x2="278.4" y2="153.60" stroke="#333" stroke-width="1.1"/>
<line x1="276.60" y1="163.48" x2="278.4" y2="163.48" stroke="#333" stroke-width="1.1"/>
<line x1="276.60" y1="173.36" x2="278.4" y2="173.36" stroke="#333" stroke-width="1.1"/>
<line x1="290.83" y1="180.6" x2="290.83" y2="182.20" stroke="#333" stroke-width="1.0"/>
<line x1="315.69" y1="180.6" x2="315.69" y2="182.20" stroke="#333" stroke-width="1.0"/>
<line x1="340.54" y1="180.6" x2="340.54" y2="182.20" stroke="#333" stroke-width="1.0"/>
<line x1="365.40" y1="180.6" x2="365.40" y2="182.20" stroke="#333" stroke-width="1.0"/>
<line x1="390.26" y1="180.6" x2="390.26" y2="182.20" stroke="#333" stroke-width="1.0"/>
<line x1="415.11" y1="180.6" x2="415.11" y2="182.20" stroke="#333" stroke-width="1.0"/>
<line x1="439.97" y1="180.6" x2="439.97" y2="182.20" stroke="#333" stroke-width="1.0"/>
<line x1="464.83" y1="180.6" x2="464.83" y2="182.20" stroke="#333" stroke-width="1.0"/>
<line x1="489.69" y1="180.6" x2="489.69" y2="182.20" stroke="#333" stroke-width="1.0"/>
<line x1="514.54" y1="180.6" x2="514.54" y2="182.20" stroke="#333" stroke-width="1.0"/>
<line x1="381.8" y1="125.3" x2="398.8" y2="125.3" stroke="#222" stroke-width="1.4"/>
<text transform="translate(400.60,127.80) scale(1,1.0)" font-size="8.6" text-anchor="start" font-weight="normal" fill="#2a2a2a" stroke="#2a2a2a" stroke-width="0.22">MB 10<tspan dy="-3.5" font-size="8.3">-5</tspan></text>
<clipPath id="cpc2"><rect x="278.4" y="187.7" width="261.00" height="86.10"/></clipPath>
<polyline clip-path="url(#cpc2)" points="278.70,259.70 279.65,259.91 280.60,260.10 281.50,260.25 282.40,260.27 283.30,260.50 284.17,260.62 285.03,260.45 285.90,260.50 286.80,260.14 287.70,259.66 288.60,259.20 289.25,258.52 289.90,257.95 290.55,257.22 291.20,256.80 291.60,255.86 292.00,255.35 292.40,254.32 292.80,253.67 293.20,252.80 293.43,251.80 293.65,251.18 293.88,250.26 294.10,249.50 294.32,248.59 294.55,247.66 294.77,246.94 295.00,246.20 295.25,245.31 295.50,244.50 295.75,244.00 296.00,243.04 296.25,242.32 296.50,241.60 297.60,242.20 297.75,243.26 297.90,244.09 298.05,245.02 298.20,245.89 298.35,246.45 298.50,247.50 298.64,248.20 298.78,248.89 298.92,249.98 299.06,250.77 299.20,251.43 299.34,252.26 299.48,253.17 299.62,253.99 299.76,254.59 299.90,255.50 300.22,256.49 300.53,257.10 300.85,258.06 301.17,258.69 301.48,259.50 301.80,260.50 302.48,261.23 303.15,261.70 303.82,262.24 304.50,262.70 305.32,262.75 306.15,263.00 306.98,263.30 307.80,263.70 308.62,263.77 309.45,264.01 310.28,264.25 311.10,264.50 311.93,264.35 312.75,264.52 313.57,264.71 314.40,264.70 315.22,264.73 316.05,265.20 316.88,265.26 317.70,265.40 318.60,265.73 319.50,265.76 320.40,266.10 321.70,265.40 322.13,264.47 322.57,263.68 323.00,262.70 323.27,261.87 323.53,260.95 323.80,260.55 324.07,259.75 324.33,258.77 324.60,258.10 324.88,257.13 325.17,256.72 325.45,255.85 325.73,254.83 326.02,254.15 326.30,253.50 326.90,252.66 327.50,252.29 328.10,251.50 329.20,251.72 330.30,252.20 331.30,252.38 332.30,252.20 333.30,251.81 334.30,251.20 335.30,251.07 336.30,251.30 337.60,251.90 338.17,252.89 338.73,253.65 339.30,254.60 339.62,255.47 339.94,256.26 340.26,256.78 340.58,257.46 340.90,258.40 341.12,259.38 341.34,259.93 341.56,260.93 341.78,261.60 342.00,262.30 342.53,263.30 343.07,264.25 343.60,265.00 344.33,265.66 345.07,266.18 345.80,266.80 346.70,267.10 347.60,267.89 348.50,268.30 349.43,268.64 350.37,269.04 351.30,269.40 352.10,269.76 352.90,269.59 353.70,270.04 354.50,270.10 355.32,269.90 356.15,270.19 356.98,270.23 357.80,270.10 358.62,269.99 359.45,270.12 360.28,270.31 361.10,270.10 361.93,270.34 362.75,270.47 363.57,270.51 364.40,270.80 365.20,270.66 366.00,270.84 366.80,270.91 367.60,271.00 368.43,270.72 369.25,270.62 370.07,270.39 370.90,270.40 371.72,270.42 372.55,270.32 373.38,270.06 374.20,270.10 375.00,269.94 375.80,270.01 376.60,269.93 377.40,269.90 378.22,270.09 379.05,269.83 379.88,269.81 380.70,269.90 381.52,270.02 382.35,269.64 383.18,269.78 384.00,269.70 384.90,269.39 385.80,269.37 386.70,269.00 387.50,269.57 388.30,270.10 389.12,270.16 389.95,269.85 390.78,270.02 391.60,269.90 392.80,269.94 394.00,269.90 394.88,269.78 395.76,269.82 396.64,269.75 397.52,269.33 398.40,269.40 399.20,269.48 400.00,269.69 400.80,269.80 401.60,270.10 402.43,269.73 403.25,269.65 404.07,269.44 404.90,269.40 405.72,269.21 406.55,268.83 407.38,268.40 408.20,268.30 409.06,268.14 409.92,268.13 410.78,268.00 411.64,267.83 412.50,267.90 413.38,267.57 414.26,267.40 415.14,267.70 416.02,267.45 416.90,267.20 417.78,267.02 418.66,267.30 419.54,267.41 420.42,267.23 421.30,267.20 422.16,267.03 423.02,267.20 423.88,267.17 424.74,267.06 425.60,267.20 426.43,267.29 427.25,267.13 428.07,267.61 428.90,267.50 429.72,267.29 430.55,267.01 431.38,266.87 432.20,266.40 433.00,266.74 433.80,266.84 434.60,267.11 435.40,267.50 436.33,266.87 437.27,266.36 438.20,266.10 439.10,265.65 440.00,265.12 440.90,264.40 441.72,264.74 442.55,265.11 443.38,265.74 444.20,266.10 445.00,266.05 445.80,265.89 446.60,265.35 447.40,265.30 448.22,265.35 449.05,265.30 449.88,265.18 450.70,265.00 451.52,264.77 452.35,264.56 453.18,264.69 454.00,264.40 455.00,264.62 456.00,265.00 456.98,265.04 457.95,265.22 458.92,265.24 459.90,265.40 460.70,265.69 461.50,265.57 462.30,265.62 463.10,265.99 463.90,266.10 464.70,266.28 465.50,266.48 466.30,266.55 467.10,266.76 467.90,266.70 468.70,266.90 469.50,266.70 470.30,266.70 471.10,266.55 471.90,266.70 472.88,266.71 473.85,266.94 474.82,266.82 475.80,267.10 476.60,267.10 477.40,266.79 478.20,266.84 479.00,266.99 479.80,266.70 480.60,266.44 481.40,266.34 482.20,266.43 483.00,266.24 483.80,266.30 484.60,266.36 485.40,266.00 486.20,266.33 487.00,266.30 487.80,266.10 488.77,266.23 489.75,266.07 490.73,266.00 491.70,266.10 492.60,265.70 493.50,265.17 494.40,264.70 494.72,263.89 495.04,263.07 495.36,262.33 495.68,261.65 496.00,260.80 496.43,260.12 496.85,259.33 497.27,258.18 497.70,257.50 498.35,258.06 499.00,258.80 499.19,259.62 499.37,260.51 499.56,261.26 499.74,262.04 499.93,262.83 500.11,263.78 500.30,264.70 500.80,265.51 501.30,266.56 501.80,267.35 502.30,268.00 503.20,268.46 504.10,268.81 505.00,268.90 505.82,269.33 506.65,269.40 507.48,269.71 508.30,269.80 509.10,269.86 509.90,270.38 510.70,270.60 511.50,270.80 512.35,270.78 513.20,270.96 514.05,271.20 514.90,271.06 515.75,271.20 516.60,271.20 517.45,271.18 518.30,271.26 519.15,271.57 520.00,271.26 520.85,271.40 521.70,271.60 522.55,271.68 523.40,271.58 524.25,271.42 525.10,271.67 525.95,271.54 526.80,271.60 527.60,271.66 528.40,271.61 529.20,271.69 530.00,271.73 530.80,271.68 531.60,271.58 532.40,271.63 533.20,271.80 534.01,272.01 534.83,271.91 535.64,271.76 536.46,272.13 537.27,271.91 538.09,271.88 538.90,272.10" fill="none" stroke="#1e1e1e" stroke-width="1.5" stroke-linejoin="round"/>
<rect x="278.4" y="187.7" width="261.00" height="86.10" fill="none" stroke="#333" stroke-width="1.35"/>
<line x1="276.60" y1="196.90" x2="278.4" y2="196.90" stroke="#333" stroke-width="1.1"/>
<line x1="276.60" y1="206.78" x2="278.4" y2="206.78" stroke="#333" stroke-width="1.1"/>
<line x1="276.60" y1="216.66" x2="278.4" y2="216.66" stroke="#333" stroke-width="1.1"/>
<line x1="276.60" y1="226.54" x2="278.4" y2="226.54" stroke="#333" stroke-width="1.1"/>
<line x1="276.60" y1="236.42" x2="278.4" y2="236.42" stroke="#333" stroke-width="1.1"/>
<line x1="276.60" y1="246.30" x2="278.4" y2="246.30" stroke="#333" stroke-width="1.1"/>
<line x1="276.60" y1="256.18" x2="278.4" y2="256.18" stroke="#333" stroke-width="1.1"/>
<line x1="276.60" y1="266.06" x2="278.4" y2="266.06" stroke="#333" stroke-width="1.1"/>
<line x1="290.83" y1="273.8" x2="290.83" y2="275.40" stroke="#333" stroke-width="1.0"/>
<line x1="315.69" y1="273.8" x2="315.69" y2="275.40" stroke="#333" stroke-width="1.0"/>
<line x1="340.54" y1="273.8" x2="340.54" y2="275.40" stroke="#333" stroke-width="1.0"/>
<line x1="365.40" y1="273.8" x2="365.40" y2="275.40" stroke="#333" stroke-width="1.0"/>
<line x1="390.26" y1="273.8" x2="390.26" y2="275.40" stroke="#333" stroke-width="1.0"/>
<line x1="415.11" y1="273.8" x2="415.11" y2="275.40" stroke="#333" stroke-width="1.0"/>
<line x1="439.97" y1="273.8" x2="439.97" y2="275.40" stroke="#333" stroke-width="1.0"/>
<line x1="464.83" y1="273.8" x2="464.83" y2="275.40" stroke="#333" stroke-width="1.0"/>
<line x1="489.69" y1="273.8" x2="489.69" y2="275.40" stroke="#333" stroke-width="1.0"/>
<line x1="514.54" y1="273.8" x2="514.54" y2="275.40" stroke="#333" stroke-width="1.0"/>
<line x1="381.8" y1="220.0" x2="398.8" y2="220.0" stroke="#222" stroke-width="1.4"/>
<text transform="translate(400.60,222.50) scale(1,1.0)" font-size="8.6" text-anchor="start" font-weight="normal" fill="#2a2a2a" stroke="#2a2a2a" stroke-width="0.22">MB 10<tspan dy="-3.5" font-size="8.3">-7</tspan></text>
<clipPath id="cpc3"><rect x="278.4" y="280.5" width="261.00" height="86.30"/></clipPath>
<polyline clip-path="url(#cpc3)" points="278.60,358.80 279.47,358.61 280.33,358.29 281.20,358.20 282.00,358.12 282.80,358.07 283.60,357.85 284.40,357.90 285.23,357.80 286.07,357.46 286.90,357.50 287.77,357.11 288.63,356.74 289.50,356.30 289.98,355.37 290.45,354.76 290.92,353.86 291.40,353.30 291.67,352.39 291.93,351.69 292.20,350.67 292.47,349.86 292.73,349.00 293.00,348.00 293.22,346.98 293.43,346.52 293.65,345.55 293.87,344.42 294.08,343.90 294.30,342.90 294.75,341.90 295.20,341.00 296.10,342.30 296.24,342.97 296.39,344.13 296.53,344.77 296.67,345.68 296.81,346.21 296.96,347.31 297.10,348.00 297.29,348.62 297.47,349.51 297.66,350.39 297.84,351.04 298.03,352.11 298.21,352.76 298.40,353.70 298.88,354.46 299.35,355.49 299.82,356.22 300.30,357.10 301.13,357.84 301.97,358.29 302.80,358.80 303.60,359.19 304.40,359.28 305.20,359.66 306.00,359.70 306.80,360.06 307.60,359.95 308.40,360.41 309.20,360.50 310.27,360.43 311.33,360.62 312.40,360.50 313.43,360.65 314.47,360.78 315.50,360.70 316.30,360.61 317.10,360.79 317.90,361.03 318.70,361.00 319.57,361.20 320.43,361.10 321.30,361.00 321.93,360.07 322.57,359.58 323.20,358.80 323.83,357.79 324.47,357.15 325.10,356.30 325.73,355.87 326.37,355.00 327.00,354.60 327.83,354.72 328.67,354.54 329.50,354.40 330.37,354.29 331.23,354.26 332.10,354.40 332.93,354.28 333.77,354.35 334.60,354.10 335.45,354.39 336.30,354.60 337.25,354.93 338.20,355.60 339.00,355.94 339.80,356.70 340.37,357.36 340.93,358.50 341.50,359.20 342.20,359.79 342.90,360.69 343.60,361.40 344.53,361.57 345.47,362.02 346.40,362.20 347.20,362.32 348.00,362.39 348.80,362.89 349.60,362.90 350.43,363.09 351.25,363.33 352.07,363.56 352.90,363.60 353.85,363.80 354.80,363.39 355.75,363.53 356.70,363.60 357.52,363.50 358.35,363.70 359.18,363.91 360.00,363.80 360.88,363.97 361.76,363.68 362.64,363.78 363.52,364.10 364.40,364.00 365.26,364.08 366.12,363.95 366.98,363.99 367.84,363.85 368.70,364.00 369.58,364.07 370.46,363.79 371.34,363.92 372.22,363.73 373.10,363.60 373.96,363.35 374.82,363.40 375.68,363.30 376.54,363.53 377.40,363.30 378.22,363.24 379.05,362.90 379.88,362.85 380.70,362.90 381.58,362.92 382.46,363.05 383.34,363.17 384.22,363.17 385.10,363.30 386.00,363.29 386.90,363.18 387.80,363.48 388.70,363.43 389.60,363.34 390.50,363.60 391.38,363.63 392.25,363.91 393.12,363.55 394.00,363.80 394.92,363.56 395.83,363.71 396.75,363.45 397.67,363.37 398.58,363.38 399.50,363.30 400.40,363.13 401.30,363.20 402.20,363.11 403.10,363.23 404.00,363.18 404.90,362.90 405.82,362.63 406.73,362.79 407.65,362.82 408.57,362.80 409.48,362.69 410.40,362.50 411.30,362.56 412.20,362.56 413.10,362.44 414.00,362.40 414.90,362.63 415.80,362.50 416.72,362.66 417.63,362.69 418.55,362.58 419.47,362.41 420.38,362.62 421.30,362.50 422.20,362.56 423.10,362.40 424.00,362.41 424.90,362.23 425.80,362.27 426.70,362.20 427.62,362.21 428.53,362.11 429.45,362.28 430.37,362.32 431.28,362.66 432.20,362.50 433.00,362.32 433.80,362.09 434.60,361.86 435.40,361.80 436.22,361.51 437.05,361.38 437.88,361.11 438.70,361.10 439.52,361.06 440.35,361.61 441.18,361.60 442.00,361.80 442.86,361.70 443.72,361.67 444.58,361.47 445.44,361.33 446.30,361.40 447.18,361.15 448.06,361.19 448.94,361.14 449.82,361.26 450.70,361.10 451.52,361.25 452.35,361.54 453.18,361.40 454.00,361.60 454.80,361.85 455.60,361.77 456.40,361.80 457.26,361.70 458.12,361.82 458.98,362.08 459.84,362.33 460.70,362.20 461.58,362.20 462.46,362.44 463.34,362.35 464.22,362.60 465.10,362.50 465.96,362.35 466.82,362.57 467.68,362.80 468.54,362.56 469.40,362.70 470.28,362.63 471.16,362.57 472.04,362.67 472.92,362.76 473.80,362.90 474.68,362.95 475.56,362.70 476.44,362.74 477.32,362.61 478.20,362.70 479.06,362.75 479.92,362.86 480.78,362.77 481.64,362.57 482.50,362.70 483.38,362.80 484.26,362.90 485.14,362.74 486.02,362.51 486.90,362.70 487.78,362.80 488.66,362.79 489.54,362.51 490.42,362.38 491.30,362.50 492.20,362.06 493.10,361.92 494.00,361.60 494.60,361.03 495.20,360.19 495.80,359.40 496.55,358.79 497.30,357.80 497.77,358.41 498.23,359.19 498.70,360.00 499.13,360.84 499.57,361.53 500.00,362.20 500.82,362.43 501.65,362.83 502.48,362.95 503.30,363.30 504.16,363.21 505.02,363.46 505.88,363.40 506.74,363.76 507.60,363.80 508.48,363.85 509.36,364.04 510.24,364.20 511.12,364.17 512.00,364.40 512.80,364.39 513.60,364.21 514.40,364.62 515.20,364.47 516.00,364.66 516.80,364.26 517.60,364.52 518.40,364.58 519.20,364.41 520.00,364.50 520.83,364.33 521.67,364.37 522.50,364.37 523.33,364.65 524.17,364.36 525.00,364.69 525.83,364.52 526.67,364.58 527.50,364.61 528.33,364.61 529.17,364.66 530.00,364.60 530.81,364.64 531.62,364.53 532.43,364.71 533.24,364.49 534.05,364.69 534.85,364.72 535.66,364.72 536.47,364.52 537.28,364.72 538.09,364.81 538.90,364.60" fill="none" stroke="#1e1e1e" stroke-width="1.5" stroke-linejoin="round"/>
<rect x="278.4" y="280.5" width="261.00" height="86.30" fill="none" stroke="#333" stroke-width="1.35"/>
<line x1="276.60" y1="292.50" x2="278.4" y2="292.50" stroke="#333" stroke-width="1.1"/>
<line x1="276.60" y1="312.10" x2="278.4" y2="312.10" stroke="#333" stroke-width="1.1"/>
<line x1="276.60" y1="331.70" x2="278.4" y2="331.70" stroke="#333" stroke-width="1.1"/>
<line x1="276.60" y1="351.30" x2="278.4" y2="351.30" stroke="#333" stroke-width="1.1"/>
<line x1="290.83" y1="366.8" x2="290.83" y2="368.40" stroke="#333" stroke-width="1.0"/>
<line x1="315.69" y1="366.8" x2="315.69" y2="368.40" stroke="#333" stroke-width="1.0"/>
<line x1="340.54" y1="366.8" x2="340.54" y2="368.40" stroke="#333" stroke-width="1.0"/>
<line x1="365.40" y1="366.8" x2="365.40" y2="368.40" stroke="#333" stroke-width="1.0"/>
<line x1="390.26" y1="366.8" x2="390.26" y2="368.40" stroke="#333" stroke-width="1.0"/>
<line x1="415.11" y1="366.8" x2="415.11" y2="368.40" stroke="#333" stroke-width="1.0"/>
<line x1="439.97" y1="366.8" x2="439.97" y2="368.40" stroke="#333" stroke-width="1.0"/>
<line x1="464.83" y1="366.8" x2="464.83" y2="368.40" stroke="#333" stroke-width="1.0"/>
<line x1="489.69" y1="366.8" x2="489.69" y2="368.40" stroke="#333" stroke-width="1.0"/>
<line x1="514.54" y1="366.8" x2="514.54" y2="368.40" stroke="#333" stroke-width="1.0"/>
<line x1="381.8" y1="310.4" x2="398.8" y2="310.4" stroke="#222" stroke-width="1.4"/>
<text transform="translate(400.60,312.90) scale(1,1.0)" font-size="8.6" text-anchor="start" font-weight="normal" fill="#2a2a2a" stroke="#2a2a2a" stroke-width="0.22">MB 10<tspan dy="-3.5" font-size="8.3">-9</tspan></text>
<text transform="translate(290.83,376.60) scale(1,1.12)" font-size="8.4" text-anchor="middle" font-weight="normal" fill="#2a2a2a" stroke="#2a2a2a" stroke-width="0.18">800</text>
<text transform="translate(340.54,376.60) scale(1,1.12)" font-size="8.4" text-anchor="middle" font-weight="normal" fill="#2a2a2a" stroke="#2a2a2a" stroke-width="0.18">1000</text>
<text transform="translate(390.26,376.60) scale(1,1.12)" font-size="8.4" text-anchor="middle" font-weight="normal" fill="#2a2a2a" stroke="#2a2a2a" stroke-width="0.18">1200</text>
<text transform="translate(439.97,376.60) scale(1,1.12)" font-size="8.4" text-anchor="middle" font-weight="normal" fill="#2a2a2a" stroke="#2a2a2a" stroke-width="0.18">1400</text>
<text transform="translate(489.69,376.60) scale(1,1.12)" font-size="8.4" text-anchor="middle" font-weight="normal" fill="#2a2a2a" stroke="#2a2a2a" stroke-width="0.18">1600</text>
<text transform="translate(539.40,376.60) scale(1,1.12)" font-size="8.4" text-anchor="middle" font-weight="normal" fill="#2a2a2a" stroke="#2a2a2a" stroke-width="0.18">1800</text>
<text transform="translate(374.80,388.60) scale(1,1.12)" font-size="8.6" text-anchor="start" font-weight="normal" fill="#2a2a2a" stroke="#2a2a2a" stroke-width="0.18">Raman shift (cm<tspan dy="-4.1" font-size="7.0">-1</tspan><tspan dy="4.1">)</tspan></text>
<text transform="translate(272.30,189.90) rotate(-90) scale(1.08,1)" font-size="7.9" text-anchor="middle" font-weight="normal" fill="#2a2a2a" stroke="#2a2a2a" stroke-width="0.18">Intensity (a.u.)</text>
<text transform="translate(284.80,16.00) scale(1,1.0)" font-size="12.4" text-anchor="start" font-weight="bold" fill="#2a2a2a">(c)</text>
</svg>
</body></html>
